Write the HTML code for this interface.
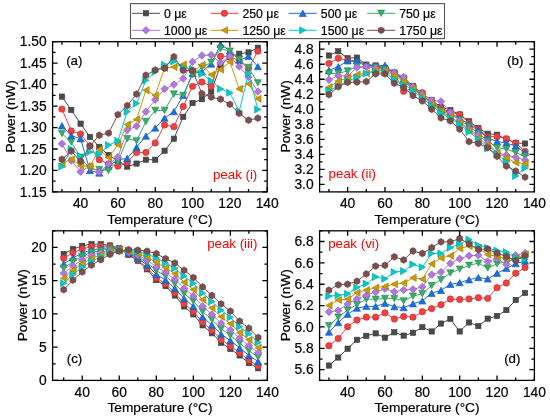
<!DOCTYPE html>
<html><head><meta charset="utf-8"><style>
html,body{margin:0;padding:0;background:#fff;}
svg{display:block;will-change:transform;}
text{font-family:"Liberation Sans", sans-serif;font-size:13.8px;fill:#000;stroke:#000;stroke-width:0.2px;}
</style></head><body>
<svg width="550" height="417" viewBox="0 0 550 417">
<polyline points="61.93,96.63 71.26,109.93 80.59,123.67 89.92,136.97 99.25,146.84 108.58,154.99 117.91,161 127.24,166.58 136.57,163.58 145.9,159.71 155.23,159.71 164.57,150.7 173.9,138.69 183.23,116.8 192.56,103.07 201.89,99.21 211.22,91.48 220.55,65.3 229.88,56.72 239.21,53.72 248.54,52.43 257.87,47.71" fill="none" stroke="#4A4A4A" stroke-width="1"/>
<rect x="59.3" y="94" width="5.26" height="5.26" fill="#4A4A4A" stroke="#393939" stroke-width="0.6"/>
<rect x="68.63" y="107.3" width="5.26" height="5.26" fill="#4A4A4A" stroke="#393939" stroke-width="0.6"/>
<rect x="77.96" y="121.03" width="5.26" height="5.26" fill="#4A4A4A" stroke="#393939" stroke-width="0.6"/>
<rect x="87.29" y="134.34" width="5.26" height="5.26" fill="#4A4A4A" stroke="#393939" stroke-width="0.6"/>
<rect x="96.62" y="144.21" width="5.26" height="5.26" fill="#4A4A4A" stroke="#393939" stroke-width="0.6"/>
<rect x="105.95" y="152.36" width="5.26" height="5.26" fill="#4A4A4A" stroke="#393939" stroke-width="0.6"/>
<rect x="115.28" y="158.37" width="5.26" height="5.26" fill="#4A4A4A" stroke="#393939" stroke-width="0.6"/>
<rect x="124.61" y="163.95" width="5.26" height="5.26" fill="#4A4A4A" stroke="#393939" stroke-width="0.6"/>
<rect x="133.94" y="160.94" width="5.26" height="5.26" fill="#4A4A4A" stroke="#393939" stroke-width="0.6"/>
<rect x="143.27" y="157.08" width="5.26" height="5.26" fill="#4A4A4A" stroke="#393939" stroke-width="0.6"/>
<rect x="152.6" y="157.08" width="5.26" height="5.26" fill="#4A4A4A" stroke="#393939" stroke-width="0.6"/>
<rect x="161.93" y="148.07" width="5.26" height="5.26" fill="#4A4A4A" stroke="#393939" stroke-width="0.6"/>
<rect x="171.26" y="136.05" width="5.26" height="5.26" fill="#4A4A4A" stroke="#393939" stroke-width="0.6"/>
<rect x="180.59" y="114.17" width="5.26" height="5.26" fill="#4A4A4A" stroke="#393939" stroke-width="0.6"/>
<rect x="189.92" y="100.44" width="5.26" height="5.26" fill="#4A4A4A" stroke="#393939" stroke-width="0.6"/>
<rect x="199.25" y="96.57" width="5.26" height="5.26" fill="#4A4A4A" stroke="#393939" stroke-width="0.6"/>
<rect x="208.59" y="88.85" width="5.26" height="5.26" fill="#4A4A4A" stroke="#393939" stroke-width="0.6"/>
<rect x="217.92" y="62.67" width="5.26" height="5.26" fill="#4A4A4A" stroke="#393939" stroke-width="0.6"/>
<rect x="227.25" y="54.09" width="5.26" height="5.26" fill="#4A4A4A" stroke="#393939" stroke-width="0.6"/>
<rect x="236.58" y="51.08" width="5.26" height="5.26" fill="#4A4A4A" stroke="#393939" stroke-width="0.6"/>
<rect x="245.91" y="49.8" width="5.26" height="5.26" fill="#4A4A4A" stroke="#393939" stroke-width="0.6"/>
<rect x="255.24" y="45.08" width="5.26" height="5.26" fill="#4A4A4A" stroke="#393939" stroke-width="0.6"/>
<polyline points="61.93,109.08 71.26,130.96 80.59,133.97 89.92,145.98 99.25,159.71 108.58,164.01 117.91,166.15 127.24,162.29 136.57,152.42 145.9,152.42 155.23,142.98 164.57,124.95 173.9,126.67 183.23,106.5 192.56,86.33 201.89,82.04 211.22,86.33 220.55,56.29 229.88,56.29 239.21,61.01 248.54,68.31 257.87,51.14" fill="none" stroke="#F14040" stroke-width="1"/>
<circle cx="61.93" cy="109.08" r="3.2" fill="#F14040" stroke="#BB3131" stroke-width="0.6"/>
<circle cx="71.26" cy="130.96" r="3.2" fill="#F14040" stroke="#BB3131" stroke-width="0.6"/>
<circle cx="80.59" cy="133.97" r="3.2" fill="#F14040" stroke="#BB3131" stroke-width="0.6"/>
<circle cx="89.92" cy="145.98" r="3.2" fill="#F14040" stroke="#BB3131" stroke-width="0.6"/>
<circle cx="99.25" cy="159.71" r="3.2" fill="#F14040" stroke="#BB3131" stroke-width="0.6"/>
<circle cx="108.58" cy="164.01" r="3.2" fill="#F14040" stroke="#BB3131" stroke-width="0.6"/>
<circle cx="117.91" cy="166.15" r="3.2" fill="#F14040" stroke="#BB3131" stroke-width="0.6"/>
<circle cx="127.24" cy="162.29" r="3.2" fill="#F14040" stroke="#BB3131" stroke-width="0.6"/>
<circle cx="136.57" cy="152.42" r="3.2" fill="#F14040" stroke="#BB3131" stroke-width="0.6"/>
<circle cx="145.9" cy="152.42" r="3.2" fill="#F14040" stroke="#BB3131" stroke-width="0.6"/>
<circle cx="155.23" cy="142.98" r="3.2" fill="#F14040" stroke="#BB3131" stroke-width="0.6"/>
<circle cx="164.57" cy="124.95" r="3.2" fill="#F14040" stroke="#BB3131" stroke-width="0.6"/>
<circle cx="173.9" cy="126.67" r="3.2" fill="#F14040" stroke="#BB3131" stroke-width="0.6"/>
<circle cx="183.23" cy="106.5" r="3.2" fill="#F14040" stroke="#BB3131" stroke-width="0.6"/>
<circle cx="192.56" cy="86.33" r="3.2" fill="#F14040" stroke="#BB3131" stroke-width="0.6"/>
<circle cx="201.89" cy="82.04" r="3.2" fill="#F14040" stroke="#BB3131" stroke-width="0.6"/>
<circle cx="211.22" cy="86.33" r="3.2" fill="#F14040" stroke="#BB3131" stroke-width="0.6"/>
<circle cx="220.55" cy="56.29" r="3.2" fill="#F14040" stroke="#BB3131" stroke-width="0.6"/>
<circle cx="229.88" cy="56.29" r="3.2" fill="#F14040" stroke="#BB3131" stroke-width="0.6"/>
<circle cx="239.21" cy="61.01" r="3.2" fill="#F14040" stroke="#BB3131" stroke-width="0.6"/>
<circle cx="248.54" cy="68.31" r="3.2" fill="#F14040" stroke="#BB3131" stroke-width="0.6"/>
<circle cx="257.87" cy="51.14" r="3.2" fill="#F14040" stroke="#BB3131" stroke-width="0.6"/>
<polyline points="61.93,125.81 71.26,135.68 80.59,138.69 89.92,170.44 99.25,173.02 108.58,166.15 117.91,159.71 127.24,158.43 136.57,147.27 145.9,136.11 155.23,127.96 164.57,118.09 173.9,111.65 183.23,95.34 192.56,73.46 201.89,71.74 211.22,64.02 220.55,44.27 229.88,50.71 239.21,60.58 248.54,56.29 257.87,66.59" fill="none" stroke="#1A6FDF" stroke-width="1"/>
<polygon points="61.93,122.62 65.5,129.01 58.36,129.01" fill="#1A6FDF" stroke="#1456AD" stroke-width="0.6"/>
<polygon points="71.26,132.49 74.83,138.88 67.69,138.88" fill="#1A6FDF" stroke="#1456AD" stroke-width="0.6"/>
<polygon points="80.59,135.49 84.16,141.88 77.02,141.88" fill="#1A6FDF" stroke="#1456AD" stroke-width="0.6"/>
<polygon points="89.92,167.25 93.49,173.64 86.35,173.64" fill="#1A6FDF" stroke="#1456AD" stroke-width="0.6"/>
<polygon points="99.25,169.82 102.82,176.21 95.68,176.21" fill="#1A6FDF" stroke="#1456AD" stroke-width="0.6"/>
<polygon points="108.58,162.96 112.15,169.35 105.01,169.35" fill="#1A6FDF" stroke="#1456AD" stroke-width="0.6"/>
<polygon points="117.91,156.52 121.49,162.91 114.34,162.91" fill="#1A6FDF" stroke="#1456AD" stroke-width="0.6"/>
<polygon points="127.24,155.23 130.82,161.62 123.67,161.62" fill="#1A6FDF" stroke="#1456AD" stroke-width="0.6"/>
<polygon points="136.57,144.07 140.15,150.47 133,150.47" fill="#1A6FDF" stroke="#1456AD" stroke-width="0.6"/>
<polygon points="145.9,132.92 149.48,139.31 142.33,139.31" fill="#1A6FDF" stroke="#1456AD" stroke-width="0.6"/>
<polygon points="155.23,124.76 158.81,131.15 151.66,131.15" fill="#1A6FDF" stroke="#1456AD" stroke-width="0.6"/>
<polygon points="164.57,114.89 168.14,121.28 160.99,121.28" fill="#1A6FDF" stroke="#1456AD" stroke-width="0.6"/>
<polygon points="173.9,108.45 177.47,114.85 170.32,114.85" fill="#1A6FDF" stroke="#1456AD" stroke-width="0.6"/>
<polygon points="183.23,92.15 186.8,98.54 179.65,98.54" fill="#1A6FDF" stroke="#1456AD" stroke-width="0.6"/>
<polygon points="192.56,70.26 196.13,76.65 188.98,76.65" fill="#1A6FDF" stroke="#1456AD" stroke-width="0.6"/>
<polygon points="201.89,68.54 205.46,74.94 198.31,74.94" fill="#1A6FDF" stroke="#1456AD" stroke-width="0.6"/>
<polygon points="211.22,60.82 214.79,67.21 207.65,67.21" fill="#1A6FDF" stroke="#1456AD" stroke-width="0.6"/>
<polygon points="220.55,41.08 224.12,47.47 216.98,47.47" fill="#1A6FDF" stroke="#1456AD" stroke-width="0.6"/>
<polygon points="229.88,47.52 233.45,53.91 226.31,53.91" fill="#1A6FDF" stroke="#1456AD" stroke-width="0.6"/>
<polygon points="239.21,57.39 242.78,63.78 235.64,63.78" fill="#1A6FDF" stroke="#1456AD" stroke-width="0.6"/>
<polygon points="248.54,53.09 252.11,59.49 244.97,59.49" fill="#1A6FDF" stroke="#1456AD" stroke-width="0.6"/>
<polygon points="257.87,63.39 261.44,69.79 254.3,69.79" fill="#1A6FDF" stroke="#1456AD" stroke-width="0.6"/>
<polyline points="61.93,133.54 71.26,142.12 80.59,157.14 89.92,169.16 99.25,169.58 108.58,170.44 117.91,161.86 127.24,138.69 136.57,140.83 145.9,121.52 155.23,110.36 164.57,110.36 173.9,94.06 183.23,95.34 192.56,74.74 201.89,67.45 211.22,62.3 220.55,48.57 229.88,51.14 239.21,59.29 248.54,67.45 257.87,82.9" fill="none" stroke="#37AD6B" stroke-width="1"/>
<polygon points="61.93,136.73 65.5,130.34 58.36,130.34" fill="#37AD6B" stroke="#2A8653" stroke-width="0.6"/>
<polygon points="71.26,145.32 74.83,138.92 67.69,138.92" fill="#37AD6B" stroke="#2A8653" stroke-width="0.6"/>
<polygon points="80.59,160.34 84.16,153.94 77.02,153.94" fill="#37AD6B" stroke="#2A8653" stroke-width="0.6"/>
<polygon points="89.92,172.35 93.49,165.96 86.35,165.96" fill="#37AD6B" stroke="#2A8653" stroke-width="0.6"/>
<polygon points="99.25,172.78 102.82,166.39 95.68,166.39" fill="#37AD6B" stroke="#2A8653" stroke-width="0.6"/>
<polygon points="108.58,173.64 112.15,167.25 105.01,167.25" fill="#37AD6B" stroke="#2A8653" stroke-width="0.6"/>
<polygon points="117.91,165.06 121.49,158.66 114.34,158.66" fill="#37AD6B" stroke="#2A8653" stroke-width="0.6"/>
<polygon points="127.24,141.88 130.82,135.49 123.67,135.49" fill="#37AD6B" stroke="#2A8653" stroke-width="0.6"/>
<polygon points="136.57,144.03 140.15,137.64 133,137.64" fill="#37AD6B" stroke="#2A8653" stroke-width="0.6"/>
<polygon points="145.9,124.72 149.48,118.32 142.33,118.32" fill="#37AD6B" stroke="#2A8653" stroke-width="0.6"/>
<polygon points="155.23,113.56 158.81,107.17 151.66,107.17" fill="#37AD6B" stroke="#2A8653" stroke-width="0.6"/>
<polygon points="164.57,113.56 168.14,107.17 160.99,107.17" fill="#37AD6B" stroke="#2A8653" stroke-width="0.6"/>
<polygon points="173.9,97.25 177.47,90.86 170.32,90.86" fill="#37AD6B" stroke="#2A8653" stroke-width="0.6"/>
<polygon points="183.23,98.54 186.8,92.15 179.65,92.15" fill="#37AD6B" stroke="#2A8653" stroke-width="0.6"/>
<polygon points="192.56,77.94 196.13,71.55 188.98,71.55" fill="#37AD6B" stroke="#2A8653" stroke-width="0.6"/>
<polygon points="201.89,70.64 205.46,64.25 198.31,64.25" fill="#37AD6B" stroke="#2A8653" stroke-width="0.6"/>
<polygon points="211.22,65.49 214.79,59.1 207.65,59.1" fill="#37AD6B" stroke="#2A8653" stroke-width="0.6"/>
<polygon points="220.55,51.76 224.12,45.37 216.98,45.37" fill="#37AD6B" stroke="#2A8653" stroke-width="0.6"/>
<polygon points="229.88,54.34 233.45,47.95 226.31,47.95" fill="#37AD6B" stroke="#2A8653" stroke-width="0.6"/>
<polygon points="239.21,62.49 242.78,56.1 235.64,56.1" fill="#37AD6B" stroke="#2A8653" stroke-width="0.6"/>
<polygon points="248.54,70.64 252.11,64.25 244.97,64.25" fill="#37AD6B" stroke="#2A8653" stroke-width="0.6"/>
<polygon points="257.87,86.09 261.44,79.7 254.3,79.7" fill="#37AD6B" stroke="#2A8653" stroke-width="0.6"/>
<polyline points="61.93,143.84 71.26,160.57 80.59,171.73 89.92,166.15 99.25,172.16 108.58,164.01 117.91,157.14 127.24,130.1 136.57,126.24 145.9,111.65 155.23,99.63 164.57,88.91 173.9,84.61 183.23,78.61 192.56,61.87 201.89,55.43 211.22,55 220.55,62.73 229.88,56.29 239.21,66.59 248.54,76.89 257.87,91.48" fill="none" stroke="#B177DE" stroke-width="1"/>
<polygon points="61.93,140.08 65.69,143.84 61.93,147.6 58.17,143.84" fill="#B177DE" stroke="#8A5CAD" stroke-width="0.6"/>
<polygon points="71.26,156.81 75.02,160.57 71.26,164.33 67.5,160.57" fill="#B177DE" stroke="#8A5CAD" stroke-width="0.6"/>
<polygon points="80.59,167.97 84.35,171.73 80.59,175.49 76.83,171.73" fill="#B177DE" stroke="#8A5CAD" stroke-width="0.6"/>
<polygon points="89.92,162.39 93.68,166.15 89.92,169.91 86.16,166.15" fill="#B177DE" stroke="#8A5CAD" stroke-width="0.6"/>
<polygon points="99.25,168.4 103.01,172.16 99.25,175.92 95.49,172.16" fill="#B177DE" stroke="#8A5CAD" stroke-width="0.6"/>
<polygon points="108.58,160.25 112.34,164.01 108.58,167.77 104.82,164.01" fill="#B177DE" stroke="#8A5CAD" stroke-width="0.6"/>
<polygon points="117.91,153.38 121.67,157.14 117.91,160.9 114.15,157.14" fill="#B177DE" stroke="#8A5CAD" stroke-width="0.6"/>
<polygon points="127.24,126.34 131,130.1 127.24,133.86 123.48,130.1" fill="#B177DE" stroke="#8A5CAD" stroke-width="0.6"/>
<polygon points="136.57,122.48 140.33,126.24 136.57,130 132.81,126.24" fill="#B177DE" stroke="#8A5CAD" stroke-width="0.6"/>
<polygon points="145.9,107.89 149.66,111.65 145.9,115.41 142.14,111.65" fill="#B177DE" stroke="#8A5CAD" stroke-width="0.6"/>
<polygon points="155.23,95.87 158.99,99.63 155.23,103.39 151.47,99.63" fill="#B177DE" stroke="#8A5CAD" stroke-width="0.6"/>
<polygon points="164.57,85.15 168.33,88.91 164.57,92.67 160.81,88.91" fill="#B177DE" stroke="#8A5CAD" stroke-width="0.6"/>
<polygon points="173.9,80.85 177.66,84.61 173.9,88.37 170.14,84.61" fill="#B177DE" stroke="#8A5CAD" stroke-width="0.6"/>
<polygon points="183.23,74.85 186.99,78.61 183.23,82.37 179.47,78.61" fill="#B177DE" stroke="#8A5CAD" stroke-width="0.6"/>
<polygon points="192.56,58.11 196.32,61.87 192.56,65.63 188.8,61.87" fill="#B177DE" stroke="#8A5CAD" stroke-width="0.6"/>
<polygon points="201.89,51.67 205.65,55.43 201.89,59.19 198.13,55.43" fill="#B177DE" stroke="#8A5CAD" stroke-width="0.6"/>
<polygon points="211.22,51.24 214.98,55 211.22,58.76 207.46,55" fill="#B177DE" stroke="#8A5CAD" stroke-width="0.6"/>
<polygon points="220.55,58.97 224.31,62.73 220.55,66.49 216.79,62.73" fill="#B177DE" stroke="#8A5CAD" stroke-width="0.6"/>
<polygon points="229.88,52.53 233.64,56.29 229.88,60.05 226.12,56.29" fill="#B177DE" stroke="#8A5CAD" stroke-width="0.6"/>
<polygon points="239.21,62.83 242.97,66.59 239.21,70.35 235.45,66.59" fill="#B177DE" stroke="#8A5CAD" stroke-width="0.6"/>
<polygon points="248.54,73.13 252.3,76.89 248.54,80.65 244.78,76.89" fill="#B177DE" stroke="#8A5CAD" stroke-width="0.6"/>
<polygon points="257.87,87.72 261.63,91.48 257.87,95.24 254.11,91.48" fill="#B177DE" stroke="#8A5CAD" stroke-width="0.6"/>
<polyline points="61.93,164.01 71.26,159.29 80.59,165.72 89.92,166.15 99.25,149.41 108.58,157.57 117.91,144.69 127.24,124.52 136.57,119.37 145.9,90.19 155.23,95.34 164.57,67.88 173.9,67.02 183.23,64.44 192.56,71.74 201.89,64.87 211.22,74.74 220.55,69.59 229.88,61.87 239.21,88.91 248.54,83.76 257.87,98.78" fill="none" stroke="#CC9900" stroke-width="1"/>
<polygon points="58.73,164.01 65.13,160.43 65.13,167.58" fill="#CC9900" stroke="#9F7700" stroke-width="0.6"/>
<polygon points="68.06,159.29 74.46,155.71 74.46,162.86" fill="#CC9900" stroke="#9F7700" stroke-width="0.6"/>
<polygon points="77.4,165.72 83.79,162.15 83.79,169.29" fill="#CC9900" stroke="#9F7700" stroke-width="0.6"/>
<polygon points="86.73,166.15 93.12,162.58 93.12,169.72" fill="#CC9900" stroke="#9F7700" stroke-width="0.6"/>
<polygon points="96.06,149.41 102.45,145.84 102.45,152.99" fill="#CC9900" stroke="#9F7700" stroke-width="0.6"/>
<polygon points="105.39,157.57 111.78,154 111.78,161.14" fill="#CC9900" stroke="#9F7700" stroke-width="0.6"/>
<polygon points="114.72,144.69 121.11,141.12 121.11,148.27" fill="#CC9900" stroke="#9F7700" stroke-width="0.6"/>
<polygon points="124.05,124.52 130.44,120.95 130.44,128.1" fill="#CC9900" stroke="#9F7700" stroke-width="0.6"/>
<polygon points="133.38,119.37 139.77,115.8 139.77,122.95" fill="#CC9900" stroke="#9F7700" stroke-width="0.6"/>
<polygon points="142.71,90.19 149.1,86.62 149.1,93.77" fill="#CC9900" stroke="#9F7700" stroke-width="0.6"/>
<polygon points="152.04,95.34 158.43,91.77 158.43,98.91" fill="#CC9900" stroke="#9F7700" stroke-width="0.6"/>
<polygon points="161.37,67.88 167.76,64.31 167.76,71.45" fill="#CC9900" stroke="#9F7700" stroke-width="0.6"/>
<polygon points="170.7,67.02 177.09,63.45 177.09,70.59" fill="#CC9900" stroke="#9F7700" stroke-width="0.6"/>
<polygon points="180.03,64.44 186.42,60.87 186.42,68.02" fill="#CC9900" stroke="#9F7700" stroke-width="0.6"/>
<polygon points="189.36,71.74 195.75,68.17 195.75,75.31" fill="#CC9900" stroke="#9F7700" stroke-width="0.6"/>
<polygon points="198.69,64.87 205.08,61.3 205.08,68.45" fill="#CC9900" stroke="#9F7700" stroke-width="0.6"/>
<polygon points="208.02,74.74 214.41,71.17 214.41,78.32" fill="#CC9900" stroke="#9F7700" stroke-width="0.6"/>
<polygon points="217.35,69.59 223.74,66.02 223.74,73.17" fill="#CC9900" stroke="#9F7700" stroke-width="0.6"/>
<polygon points="226.68,61.87 233.07,58.3 233.07,65.44" fill="#CC9900" stroke="#9F7700" stroke-width="0.6"/>
<polygon points="236.01,88.91 242.4,85.33 242.4,92.48" fill="#CC9900" stroke="#9F7700" stroke-width="0.6"/>
<polygon points="245.34,83.76 251.74,80.18 251.74,87.33" fill="#CC9900" stroke="#9F7700" stroke-width="0.6"/>
<polygon points="254.67,98.78 261.07,95.2 261.07,102.35" fill="#CC9900" stroke="#9F7700" stroke-width="0.6"/>
<polyline points="61.93,166.58 71.26,148.99 80.59,156.28 89.92,151.99 99.25,154.14 108.58,145.12 117.91,140.83 127.24,111.65 136.57,103.5 145.9,80.32 155.23,71.74 164.57,64.87 173.9,61.44 183.23,67.45 192.56,69.17 201.89,73.89 211.22,80.75 220.55,88.91 229.88,92.77 239.21,111.22 248.54,73.46 257.87,109.5" fill="none" stroke="#00CBCC" stroke-width="1"/>
<polygon points="65.13,166.58 58.73,163.01 58.73,170.15" fill="#00CBCC" stroke="#009E9F" stroke-width="0.6"/>
<polygon points="74.46,148.99 68.06,145.41 68.06,152.56" fill="#00CBCC" stroke="#009E9F" stroke-width="0.6"/>
<polygon points="83.79,156.28 77.4,152.71 77.4,159.85" fill="#00CBCC" stroke="#009E9F" stroke-width="0.6"/>
<polygon points="93.12,151.99 86.73,148.42 86.73,155.56" fill="#00CBCC" stroke="#009E9F" stroke-width="0.6"/>
<polygon points="102.45,154.14 96.06,150.56 96.06,157.71" fill="#00CBCC" stroke="#009E9F" stroke-width="0.6"/>
<polygon points="111.78,145.12 105.39,141.55 105.39,148.7" fill="#00CBCC" stroke="#009E9F" stroke-width="0.6"/>
<polygon points="121.11,140.83 114.72,137.26 114.72,144.4" fill="#00CBCC" stroke="#009E9F" stroke-width="0.6"/>
<polygon points="130.44,111.65 124.05,108.08 124.05,115.22" fill="#00CBCC" stroke="#009E9F" stroke-width="0.6"/>
<polygon points="139.77,103.5 133.38,99.92 133.38,107.07" fill="#00CBCC" stroke="#009E9F" stroke-width="0.6"/>
<polygon points="149.1,80.32 142.71,76.75 142.71,83.89" fill="#00CBCC" stroke="#009E9F" stroke-width="0.6"/>
<polygon points="158.43,71.74 152.04,68.17 152.04,75.31" fill="#00CBCC" stroke="#009E9F" stroke-width="0.6"/>
<polygon points="167.76,64.87 161.37,61.3 161.37,68.45" fill="#00CBCC" stroke="#009E9F" stroke-width="0.6"/>
<polygon points="177.09,61.44 170.7,57.87 170.7,65.01" fill="#00CBCC" stroke="#009E9F" stroke-width="0.6"/>
<polygon points="186.42,67.45 180.03,63.88 180.03,71.02" fill="#00CBCC" stroke="#009E9F" stroke-width="0.6"/>
<polygon points="195.75,69.17 189.36,65.59 189.36,72.74" fill="#00CBCC" stroke="#009E9F" stroke-width="0.6"/>
<polygon points="205.08,73.89 198.69,70.31 198.69,77.46" fill="#00CBCC" stroke="#009E9F" stroke-width="0.6"/>
<polygon points="214.41,80.75 208.02,77.18 208.02,84.32" fill="#00CBCC" stroke="#009E9F" stroke-width="0.6"/>
<polygon points="223.74,88.91 217.35,85.33 217.35,92.48" fill="#00CBCC" stroke="#009E9F" stroke-width="0.6"/>
<polygon points="233.07,92.77 226.68,89.2 226.68,96.34" fill="#00CBCC" stroke="#009E9F" stroke-width="0.6"/>
<polygon points="242.4,111.22 236.01,107.65 236.01,114.79" fill="#00CBCC" stroke="#009E9F" stroke-width="0.6"/>
<polygon points="251.74,73.46 245.34,69.88 245.34,77.03" fill="#00CBCC" stroke="#009E9F" stroke-width="0.6"/>
<polygon points="261.07,109.5 254.67,105.93 254.67,113.08" fill="#00CBCC" stroke="#009E9F" stroke-width="0.6"/>
<polyline points="61.93,159.29 71.26,151.13 80.59,161.43 89.92,145.98 99.25,135.25 108.58,133.11 117.91,114.65 127.24,105.64 136.57,94.06 145.9,75.17 155.23,70.02 164.57,68.31 173.9,56.72 183.23,70.45 192.56,70.45 201.89,93.63 211.22,97.06 220.55,99.21 229.88,104.35 239.21,113.37 248.54,120.23 257.87,118.09" fill="none" stroke="#7D4E4E" stroke-width="1"/>
<polygon points="64.86,160.98 61.93,162.67 59,160.98 59,157.59 61.93,155.9 64.86,157.59" fill="#7D4E4E" stroke="#613C3C" stroke-width="0.6"/>
<polygon points="74.19,152.82 71.26,154.52 68.33,152.82 68.33,149.44 71.26,147.75 74.19,149.44" fill="#7D4E4E" stroke="#613C3C" stroke-width="0.6"/>
<polygon points="83.52,163.12 80.59,164.81 77.66,163.12 77.66,159.74 80.59,158.05 83.52,159.74" fill="#7D4E4E" stroke="#613C3C" stroke-width="0.6"/>
<polygon points="92.85,147.67 89.92,149.37 86.99,147.67 86.99,144.29 89.92,142.6 92.85,144.29" fill="#7D4E4E" stroke="#613C3C" stroke-width="0.6"/>
<polygon points="102.18,136.95 99.25,138.64 96.32,136.95 96.32,133.56 99.25,131.87 102.18,133.56" fill="#7D4E4E" stroke="#613C3C" stroke-width="0.6"/>
<polygon points="111.51,134.8 108.58,136.49 105.65,134.8 105.65,131.42 108.58,129.72 111.51,131.42" fill="#7D4E4E" stroke="#613C3C" stroke-width="0.6"/>
<polygon points="120.84,116.35 117.91,118.04 114.98,116.35 114.98,112.96 117.91,111.27 120.84,112.96" fill="#7D4E4E" stroke="#613C3C" stroke-width="0.6"/>
<polygon points="130.17,107.33 127.24,109.03 124.31,107.33 124.31,103.95 127.24,102.26 130.17,103.95" fill="#7D4E4E" stroke="#613C3C" stroke-width="0.6"/>
<polygon points="139.5,95.75 136.57,97.44 133.64,95.75 133.64,92.36 136.57,90.67 139.5,92.36" fill="#7D4E4E" stroke="#613C3C" stroke-width="0.6"/>
<polygon points="148.83,76.87 145.9,78.56 142.97,76.87 142.97,73.48 145.9,71.79 148.83,73.48" fill="#7D4E4E" stroke="#613C3C" stroke-width="0.6"/>
<polygon points="158.17,71.72 155.23,73.41 152.3,71.72 152.3,68.33 155.23,66.64 158.17,68.33" fill="#7D4E4E" stroke="#613C3C" stroke-width="0.6"/>
<polygon points="167.5,70 164.57,71.69 161.63,70 161.63,66.61 164.57,64.92 167.5,66.61" fill="#7D4E4E" stroke="#613C3C" stroke-width="0.6"/>
<polygon points="176.83,58.41 173.9,60.1 170.97,58.41 170.97,55.03 173.9,53.34 176.83,55.03" fill="#7D4E4E" stroke="#613C3C" stroke-width="0.6"/>
<polygon points="186.16,72.14 183.23,73.84 180.3,72.14 180.3,68.76 183.23,67.07 186.16,68.76" fill="#7D4E4E" stroke="#613C3C" stroke-width="0.6"/>
<polygon points="195.49,72.14 192.56,73.84 189.63,72.14 189.63,68.76 192.56,67.07 195.49,68.76" fill="#7D4E4E" stroke="#613C3C" stroke-width="0.6"/>
<polygon points="204.82,95.32 201.89,97.01 198.96,95.32 198.96,91.93 201.89,90.24 204.82,91.93" fill="#7D4E4E" stroke="#613C3C" stroke-width="0.6"/>
<polygon points="214.15,98.75 211.22,100.44 208.29,98.75 208.29,95.37 211.22,93.68 214.15,95.37" fill="#7D4E4E" stroke="#613C3C" stroke-width="0.6"/>
<polygon points="223.48,100.9 220.55,102.59 217.62,100.9 217.62,97.51 220.55,95.82 223.48,97.51" fill="#7D4E4E" stroke="#613C3C" stroke-width="0.6"/>
<polygon points="232.81,106.05 229.88,107.74 226.95,106.05 226.95,102.66 229.88,100.97 232.81,102.66" fill="#7D4E4E" stroke="#613C3C" stroke-width="0.6"/>
<polygon points="242.14,115.06 239.21,116.75 236.28,115.06 236.28,111.67 239.21,109.98 242.14,111.67" fill="#7D4E4E" stroke="#613C3C" stroke-width="0.6"/>
<polygon points="251.47,121.93 248.54,123.62 245.61,121.93 245.61,118.54 248.54,116.85 251.47,118.54" fill="#7D4E4E" stroke="#613C3C" stroke-width="0.6"/>
<polygon points="260.8,119.78 257.87,121.47 254.94,119.78 254.94,116.4 257.87,114.7 260.8,116.4" fill="#7D4E4E" stroke="#613C3C" stroke-width="0.6"/>
<rect x="52.6" y="41.7" width="214.6" height="150.2" fill="none" stroke="#000" stroke-width="1.3"/>
<path d="M61.93 191.9v-3M61.93 41.7v3M80.59 191.9v-5M80.59 41.7v5M99.25 191.9v-3M99.25 41.7v3M117.91 191.9v-5M117.91 41.7v5M136.57 191.9v-3M136.57 41.7v3M155.23 191.9v-5M155.23 41.7v5M173.9 191.9v-3M173.9 41.7v3M192.56 191.9v-5M192.56 41.7v5M211.22 191.9v-3M211.22 41.7v3M229.88 191.9v-5M229.88 41.7v5M248.54 191.9v-3M248.54 41.7v3M267.2 191.9v-5M267.2 41.7v5M52.6 191.9h5M267.2 191.9h-5M52.6 170.44h5M267.2 170.44h-5M52.6 148.99h5M267.2 148.99h-5M52.6 127.53h5M267.2 127.53h-5M52.6 106.07h5M267.2 106.07h-5M52.6 84.61h5M267.2 84.61h-5M52.6 63.16h5M267.2 63.16h-5M52.6 41.7h5M267.2 41.7h-5M52.6 181.17h3M267.2 181.17h-3M52.6 159.71h3M267.2 159.71h-3M52.6 138.26h3M267.2 138.26h-3M52.6 116.8h3M267.2 116.8h-3M52.6 95.34h3M267.2 95.34h-3M52.6 73.89h3M267.2 73.89h-3M52.6 52.43h3M267.2 52.43h-3" stroke="#000" stroke-width="1.3" fill="none"/>
<text x="80.59" y="208.2" text-anchor="middle">40</text>
<text x="117.91" y="208.2" text-anchor="middle">60</text>
<text x="155.23" y="208.2" text-anchor="middle">80</text>
<text x="192.56" y="208.2" text-anchor="middle">100</text>
<text x="229.88" y="208.2" text-anchor="middle">120</text>
<text x="267.2" y="208.2" text-anchor="middle">140</text>
<text x="46.6" y="196.6" text-anchor="end">1.15</text>
<text x="46.6" y="175.14" text-anchor="end">1.20</text>
<text x="46.6" y="153.69" text-anchor="end">1.25</text>
<text x="46.6" y="132.23" text-anchor="end">1.30</text>
<text x="46.6" y="110.77" text-anchor="end">1.35</text>
<text x="46.6" y="89.31" text-anchor="end">1.40</text>
<text x="46.6" y="67.86" text-anchor="end">1.45</text>
<text x="46.6" y="46.4" text-anchor="end">1.50</text>
<text x="159.9" y="223.9" text-anchor="middle" style="font-size:13.7px">Temperature (°C)</text>
<text x="66.2" y="65.3" style="font-size:13.3px">(a)</text>
<text x="257.3" y="178.6" text-anchor="end" style="fill:#f00;stroke:none;font-size:13.3px">peak (i)</text>
<polyline points="328.94,55.52 338.28,51.24 347.62,58.22 356.96,57.62 366.3,64.61 375.63,65.43 384.97,67.99 394.31,72.49 403.65,77.75 412.99,86.01 422.33,93.52 431.67,100.28 441.01,107.04 450.35,110.04 459.69,114.55 469.03,121.31 478.37,128.07 487.7,133.7 497.04,134.67 506.38,139.33 515.72,142.78 525.06,143.54" fill="none" stroke="#4A4A4A" stroke-width="1"/>
<rect x="326.31" y="52.89" width="5.26" height="5.26" fill="#4A4A4A" stroke="#393939" stroke-width="0.6"/>
<rect x="335.65" y="48.61" width="5.26" height="5.26" fill="#4A4A4A" stroke="#393939" stroke-width="0.6"/>
<rect x="344.99" y="55.59" width="5.26" height="5.26" fill="#4A4A4A" stroke="#393939" stroke-width="0.6"/>
<rect x="354.32" y="54.99" width="5.26" height="5.26" fill="#4A4A4A" stroke="#393939" stroke-width="0.6"/>
<rect x="363.66" y="61.97" width="5.26" height="5.26" fill="#4A4A4A" stroke="#393939" stroke-width="0.6"/>
<rect x="373" y="62.8" width="5.26" height="5.26" fill="#4A4A4A" stroke="#393939" stroke-width="0.6"/>
<rect x="382.34" y="65.35" width="5.26" height="5.26" fill="#4A4A4A" stroke="#393939" stroke-width="0.6"/>
<rect x="391.68" y="69.86" width="5.26" height="5.26" fill="#4A4A4A" stroke="#393939" stroke-width="0.6"/>
<rect x="401.02" y="75.12" width="5.26" height="5.26" fill="#4A4A4A" stroke="#393939" stroke-width="0.6"/>
<rect x="410.36" y="83.38" width="5.26" height="5.26" fill="#4A4A4A" stroke="#393939" stroke-width="0.6"/>
<rect x="419.7" y="90.89" width="5.26" height="5.26" fill="#4A4A4A" stroke="#393939" stroke-width="0.6"/>
<rect x="429.04" y="97.65" width="5.26" height="5.26" fill="#4A4A4A" stroke="#393939" stroke-width="0.6"/>
<rect x="438.38" y="104.41" width="5.26" height="5.26" fill="#4A4A4A" stroke="#393939" stroke-width="0.6"/>
<rect x="447.72" y="107.41" width="5.26" height="5.26" fill="#4A4A4A" stroke="#393939" stroke-width="0.6"/>
<rect x="457.05" y="111.92" width="5.26" height="5.26" fill="#4A4A4A" stroke="#393939" stroke-width="0.6"/>
<rect x="466.39" y="118.67" width="5.26" height="5.26" fill="#4A4A4A" stroke="#393939" stroke-width="0.6"/>
<rect x="475.73" y="125.43" width="5.26" height="5.26" fill="#4A4A4A" stroke="#393939" stroke-width="0.6"/>
<rect x="485.07" y="131.07" width="5.26" height="5.26" fill="#4A4A4A" stroke="#393939" stroke-width="0.6"/>
<rect x="494.41" y="132.04" width="5.26" height="5.26" fill="#4A4A4A" stroke="#393939" stroke-width="0.6"/>
<rect x="503.75" y="136.7" width="5.26" height="5.26" fill="#4A4A4A" stroke="#393939" stroke-width="0.6"/>
<rect x="513.09" y="140.15" width="5.26" height="5.26" fill="#4A4A4A" stroke="#393939" stroke-width="0.6"/>
<rect x="522.43" y="140.9" width="5.26" height="5.26" fill="#4A4A4A" stroke="#393939" stroke-width="0.6"/>
<polyline points="328.94,63.33 338.28,58.22 347.62,60.78 356.96,61.98 366.3,65.73 375.63,66.48 384.97,68.74 394.31,73.24 403.65,91.27 412.99,88.26 422.33,92.77 431.67,101.78 441.01,107.79 450.35,112.29 459.69,114.55 469.03,122.81 478.37,129.27 487.7,136.63 497.04,136.63 506.38,138.58 515.72,143.09 525.06,151.35" fill="none" stroke="#F14040" stroke-width="1"/>
<circle cx="328.94" cy="63.33" r="3.2" fill="#F14040" stroke="#BB3131" stroke-width="0.6"/>
<circle cx="338.28" cy="58.22" r="3.2" fill="#F14040" stroke="#BB3131" stroke-width="0.6"/>
<circle cx="347.62" cy="60.78" r="3.2" fill="#F14040" stroke="#BB3131" stroke-width="0.6"/>
<circle cx="356.96" cy="61.98" r="3.2" fill="#F14040" stroke="#BB3131" stroke-width="0.6"/>
<circle cx="366.3" cy="65.73" r="3.2" fill="#F14040" stroke="#BB3131" stroke-width="0.6"/>
<circle cx="375.63" cy="66.48" r="3.2" fill="#F14040" stroke="#BB3131" stroke-width="0.6"/>
<circle cx="384.97" cy="68.74" r="3.2" fill="#F14040" stroke="#BB3131" stroke-width="0.6"/>
<circle cx="394.31" cy="73.24" r="3.2" fill="#F14040" stroke="#BB3131" stroke-width="0.6"/>
<circle cx="403.65" cy="91.27" r="3.2" fill="#F14040" stroke="#BB3131" stroke-width="0.6"/>
<circle cx="412.99" cy="88.26" r="3.2" fill="#F14040" stroke="#BB3131" stroke-width="0.6"/>
<circle cx="422.33" cy="92.77" r="3.2" fill="#F14040" stroke="#BB3131" stroke-width="0.6"/>
<circle cx="431.67" cy="101.78" r="3.2" fill="#F14040" stroke="#BB3131" stroke-width="0.6"/>
<circle cx="441.01" cy="107.79" r="3.2" fill="#F14040" stroke="#BB3131" stroke-width="0.6"/>
<circle cx="450.35" cy="112.29" r="3.2" fill="#F14040" stroke="#BB3131" stroke-width="0.6"/>
<circle cx="459.69" cy="114.55" r="3.2" fill="#F14040" stroke="#BB3131" stroke-width="0.6"/>
<circle cx="469.03" cy="122.81" r="3.2" fill="#F14040" stroke="#BB3131" stroke-width="0.6"/>
<circle cx="478.37" cy="129.27" r="3.2" fill="#F14040" stroke="#BB3131" stroke-width="0.6"/>
<circle cx="487.7" cy="136.63" r="3.2" fill="#F14040" stroke="#BB3131" stroke-width="0.6"/>
<circle cx="497.04" cy="136.63" r="3.2" fill="#F14040" stroke="#BB3131" stroke-width="0.6"/>
<circle cx="506.38" cy="138.58" r="3.2" fill="#F14040" stroke="#BB3131" stroke-width="0.6"/>
<circle cx="515.72" cy="143.09" r="3.2" fill="#F14040" stroke="#BB3131" stroke-width="0.6"/>
<circle cx="525.06" cy="151.35" r="3.2" fill="#F14040" stroke="#BB3131" stroke-width="0.6"/>
<polyline points="328.94,70.31 338.28,66.71 347.62,60.78 356.96,60.4 366.3,64.98 375.63,66.11 384.97,65.21 394.31,73.24 403.65,79.25 412.99,87.51 422.33,95.02 431.67,102.53 441.01,109.29 450.35,113.05 459.69,118.3 469.03,124.31 478.37,130.32 487.7,137.83 497.04,141.58 506.38,143.09 515.72,145.94 525.06,152.62" fill="none" stroke="#1A6FDF" stroke-width="1"/>
<polygon points="328.94,67.12 332.51,73.51 325.37,73.51" fill="#1A6FDF" stroke="#1456AD" stroke-width="0.6"/>
<polygon points="338.28,63.51 341.85,69.9 334.71,69.9" fill="#1A6FDF" stroke="#1456AD" stroke-width="0.6"/>
<polygon points="347.62,57.58 351.19,63.97 344.05,63.97" fill="#1A6FDF" stroke="#1456AD" stroke-width="0.6"/>
<polygon points="356.96,57.2 360.53,63.6 353.38,63.6" fill="#1A6FDF" stroke="#1456AD" stroke-width="0.6"/>
<polygon points="366.3,61.79 369.87,68.18 362.72,68.18" fill="#1A6FDF" stroke="#1456AD" stroke-width="0.6"/>
<polygon points="375.63,62.91 379.21,69.3 372.06,69.3" fill="#1A6FDF" stroke="#1456AD" stroke-width="0.6"/>
<polygon points="384.97,62.01 388.55,68.4 381.4,68.4" fill="#1A6FDF" stroke="#1456AD" stroke-width="0.6"/>
<polygon points="394.31,70.05 397.89,76.44 390.74,76.44" fill="#1A6FDF" stroke="#1456AD" stroke-width="0.6"/>
<polygon points="403.65,76.05 407.22,82.45 400.08,82.45" fill="#1A6FDF" stroke="#1456AD" stroke-width="0.6"/>
<polygon points="412.99,84.32 416.56,90.71 409.42,90.71" fill="#1A6FDF" stroke="#1456AD" stroke-width="0.6"/>
<polygon points="422.33,91.82 425.9,98.22 418.76,98.22" fill="#1A6FDF" stroke="#1456AD" stroke-width="0.6"/>
<polygon points="431.67,99.34 435.24,105.73 428.1,105.73" fill="#1A6FDF" stroke="#1456AD" stroke-width="0.6"/>
<polygon points="441.01,106.09 444.58,112.49 437.44,112.49" fill="#1A6FDF" stroke="#1456AD" stroke-width="0.6"/>
<polygon points="450.35,109.85 453.92,116.24 446.78,116.24" fill="#1A6FDF" stroke="#1456AD" stroke-width="0.6"/>
<polygon points="459.69,115.11 463.26,121.5 456.11,121.5" fill="#1A6FDF" stroke="#1456AD" stroke-width="0.6"/>
<polygon points="469.03,121.11 472.6,127.51 465.45,127.51" fill="#1A6FDF" stroke="#1456AD" stroke-width="0.6"/>
<polygon points="478.37,127.12 481.94,133.51 474.79,133.51" fill="#1A6FDF" stroke="#1456AD" stroke-width="0.6"/>
<polygon points="487.7,134.63 491.28,141.02 484.13,141.02" fill="#1A6FDF" stroke="#1456AD" stroke-width="0.6"/>
<polygon points="497.04,138.39 500.62,144.78 493.47,144.78" fill="#1A6FDF" stroke="#1456AD" stroke-width="0.6"/>
<polygon points="506.38,139.89 509.95,146.28 502.81,146.28" fill="#1A6FDF" stroke="#1456AD" stroke-width="0.6"/>
<polygon points="515.72,142.74 519.29,149.13 512.15,149.13" fill="#1A6FDF" stroke="#1456AD" stroke-width="0.6"/>
<polygon points="525.06,149.43 528.63,155.82 521.49,155.82" fill="#1A6FDF" stroke="#1456AD" stroke-width="0.6"/>
<polyline points="328.94,73.54 338.28,73.24 347.62,70.99 356.96,66.48 366.3,67.23 375.63,67.23 384.97,69.49 394.31,73.99 403.65,80 412.99,88.26 422.33,95.77 431.67,103.28 441.01,110.79 450.35,114.55 459.69,119.8 469.03,126.56 478.37,133.32 487.7,140.83 497.04,147.67 506.38,149.09 515.72,152.62 525.06,156.3" fill="none" stroke="#37AD6B" stroke-width="1"/>
<polygon points="328.94,76.74 332.51,70.35 325.37,70.35" fill="#37AD6B" stroke="#2A8653" stroke-width="0.6"/>
<polygon points="338.28,76.44 341.85,70.05 334.71,70.05" fill="#37AD6B" stroke="#2A8653" stroke-width="0.6"/>
<polygon points="347.62,74.19 351.19,67.79 344.05,67.79" fill="#37AD6B" stroke="#2A8653" stroke-width="0.6"/>
<polygon points="356.96,69.68 360.53,63.29 353.38,63.29" fill="#37AD6B" stroke="#2A8653" stroke-width="0.6"/>
<polygon points="366.3,70.43 369.87,64.04 362.72,64.04" fill="#37AD6B" stroke="#2A8653" stroke-width="0.6"/>
<polygon points="375.63,70.43 379.21,64.04 372.06,64.04" fill="#37AD6B" stroke="#2A8653" stroke-width="0.6"/>
<polygon points="384.97,72.68 388.55,66.29 381.4,66.29" fill="#37AD6B" stroke="#2A8653" stroke-width="0.6"/>
<polygon points="394.31,77.19 397.89,70.8 390.74,70.8" fill="#37AD6B" stroke="#2A8653" stroke-width="0.6"/>
<polygon points="403.65,83.2 407.22,76.81 400.08,76.81" fill="#37AD6B" stroke="#2A8653" stroke-width="0.6"/>
<polygon points="412.99,91.46 416.56,85.07 409.42,85.07" fill="#37AD6B" stroke="#2A8653" stroke-width="0.6"/>
<polygon points="422.33,98.97 425.9,92.58 418.76,92.58" fill="#37AD6B" stroke="#2A8653" stroke-width="0.6"/>
<polygon points="431.67,106.48 435.24,100.09 428.1,100.09" fill="#37AD6B" stroke="#2A8653" stroke-width="0.6"/>
<polygon points="441.01,113.99 444.58,107.6 437.44,107.6" fill="#37AD6B" stroke="#2A8653" stroke-width="0.6"/>
<polygon points="450.35,117.74 453.92,111.35 446.78,111.35" fill="#37AD6B" stroke="#2A8653" stroke-width="0.6"/>
<polygon points="459.69,123 463.26,116.61 456.11,116.61" fill="#37AD6B" stroke="#2A8653" stroke-width="0.6"/>
<polygon points="469.03,129.76 472.6,123.37 465.45,123.37" fill="#37AD6B" stroke="#2A8653" stroke-width="0.6"/>
<polygon points="478.37,136.52 481.94,130.13 474.79,130.13" fill="#37AD6B" stroke="#2A8653" stroke-width="0.6"/>
<polygon points="487.7,144.03 491.28,137.64 484.13,137.64" fill="#37AD6B" stroke="#2A8653" stroke-width="0.6"/>
<polygon points="497.04,150.86 500.62,144.47 493.47,144.47" fill="#37AD6B" stroke="#2A8653" stroke-width="0.6"/>
<polygon points="506.38,152.29 509.95,145.9 502.81,145.9" fill="#37AD6B" stroke="#2A8653" stroke-width="0.6"/>
<polygon points="515.72,155.82 519.29,149.43 512.15,149.43" fill="#37AD6B" stroke="#2A8653" stroke-width="0.6"/>
<polygon points="525.06,159.5 528.63,153.11 521.49,153.11" fill="#37AD6B" stroke="#2A8653" stroke-width="0.6"/>
<polyline points="328.94,79.85 338.28,75.65 347.62,76.1 356.96,67.61 366.3,66.71 375.63,67.99 384.97,70.24 394.31,72.49 403.65,77 412.99,86.76 422.33,94.27 431.67,100.28 441.01,101.4 450.35,112.29 459.69,120.56 469.03,129.49 478.37,134.82 487.7,143.09 497.04,152.62 506.38,155.1 515.72,157.35 525.06,159.98" fill="none" stroke="#B177DE" stroke-width="1"/>
<polygon points="328.94,76.09 332.7,79.85 328.94,83.61 325.18,79.85" fill="#B177DE" stroke="#8A5CAD" stroke-width="0.6"/>
<polygon points="338.28,71.89 342.04,75.65 338.28,79.41 334.52,75.65" fill="#B177DE" stroke="#8A5CAD" stroke-width="0.6"/>
<polygon points="347.62,72.34 351.38,76.1 347.62,79.86 343.86,76.1" fill="#B177DE" stroke="#8A5CAD" stroke-width="0.6"/>
<polygon points="356.96,63.85 360.72,67.61 356.96,71.37 353.2,67.61" fill="#B177DE" stroke="#8A5CAD" stroke-width="0.6"/>
<polygon points="366.3,62.95 370.06,66.71 366.3,70.47 362.54,66.71" fill="#B177DE" stroke="#8A5CAD" stroke-width="0.6"/>
<polygon points="375.63,64.23 379.39,67.99 375.63,71.75 371.87,67.99" fill="#B177DE" stroke="#8A5CAD" stroke-width="0.6"/>
<polygon points="384.97,66.48 388.73,70.24 384.97,74 381.21,70.24" fill="#B177DE" stroke="#8A5CAD" stroke-width="0.6"/>
<polygon points="394.31,68.73 398.07,72.49 394.31,76.25 390.55,72.49" fill="#B177DE" stroke="#8A5CAD" stroke-width="0.6"/>
<polygon points="403.65,73.24 407.41,77 403.65,80.76 399.89,77" fill="#B177DE" stroke="#8A5CAD" stroke-width="0.6"/>
<polygon points="412.99,83 416.75,86.76 412.99,90.52 409.23,86.76" fill="#B177DE" stroke="#8A5CAD" stroke-width="0.6"/>
<polygon points="422.33,90.51 426.09,94.27 422.33,98.03 418.57,94.27" fill="#B177DE" stroke="#8A5CAD" stroke-width="0.6"/>
<polygon points="431.67,96.52 435.43,100.28 431.67,104.04 427.91,100.28" fill="#B177DE" stroke="#8A5CAD" stroke-width="0.6"/>
<polygon points="441.01,97.64 444.77,101.4 441.01,105.16 437.25,101.4" fill="#B177DE" stroke="#8A5CAD" stroke-width="0.6"/>
<polygon points="450.35,108.53 454.11,112.29 450.35,116.05 446.59,112.29" fill="#B177DE" stroke="#8A5CAD" stroke-width="0.6"/>
<polygon points="459.69,116.8 463.45,120.56 459.69,124.32 455.93,120.56" fill="#B177DE" stroke="#8A5CAD" stroke-width="0.6"/>
<polygon points="469.03,125.73 472.79,129.49 469.03,133.25 465.27,129.49" fill="#B177DE" stroke="#8A5CAD" stroke-width="0.6"/>
<polygon points="478.37,131.06 482.13,134.82 478.37,138.58 474.61,134.82" fill="#B177DE" stroke="#8A5CAD" stroke-width="0.6"/>
<polygon points="487.7,139.33 491.46,143.09 487.7,146.85 483.94,143.09" fill="#B177DE" stroke="#8A5CAD" stroke-width="0.6"/>
<polygon points="497.04,148.86 500.8,152.62 497.04,156.38 493.28,152.62" fill="#B177DE" stroke="#8A5CAD" stroke-width="0.6"/>
<polygon points="506.38,151.34 510.14,155.1 506.38,158.86 502.62,155.1" fill="#B177DE" stroke="#8A5CAD" stroke-width="0.6"/>
<polygon points="515.72,153.59 519.48,157.35 515.72,161.11 511.96,157.35" fill="#B177DE" stroke="#8A5CAD" stroke-width="0.6"/>
<polygon points="525.06,156.22 528.82,159.98 525.06,163.74 521.3,159.98" fill="#B177DE" stroke="#8A5CAD" stroke-width="0.6"/>
<polyline points="328.94,87.29 338.28,80.98 347.62,77.75 356.96,74.59 366.3,73.24 375.63,70.24 384.97,70.99 394.31,75.5 403.65,81.5 412.99,89.01 422.33,96.52 431.67,104.03 441.01,111.54 450.35,116.8 459.69,122.81 469.03,130.32 478.37,137.83 487.7,145.34 497.04,152.85 506.38,158.11 515.72,162.46 525.06,163.66" fill="none" stroke="#CC9900" stroke-width="1"/>
<polygon points="325.74,87.29 332.14,83.71 332.14,90.86" fill="#CC9900" stroke="#9F7700" stroke-width="0.6"/>
<polygon points="335.08,80.98 341.47,77.41 341.47,84.55" fill="#CC9900" stroke="#9F7700" stroke-width="0.6"/>
<polygon points="344.42,77.75 350.81,74.18 350.81,81.32" fill="#CC9900" stroke="#9F7700" stroke-width="0.6"/>
<polygon points="353.76,74.59 360.15,71.02 360.15,78.17" fill="#CC9900" stroke="#9F7700" stroke-width="0.6"/>
<polygon points="363.1,73.24 369.49,69.67 369.49,76.81" fill="#CC9900" stroke="#9F7700" stroke-width="0.6"/>
<polygon points="372.44,70.24 378.83,66.67 378.83,73.81" fill="#CC9900" stroke="#9F7700" stroke-width="0.6"/>
<polygon points="381.78,70.99 388.17,67.42 388.17,74.56" fill="#CC9900" stroke="#9F7700" stroke-width="0.6"/>
<polygon points="391.12,75.5 397.51,71.92 397.51,79.07" fill="#CC9900" stroke="#9F7700" stroke-width="0.6"/>
<polygon points="400.46,81.5 406.85,77.93 406.85,85.08" fill="#CC9900" stroke="#9F7700" stroke-width="0.6"/>
<polygon points="409.8,89.01 416.19,85.44 416.19,92.59" fill="#CC9900" stroke="#9F7700" stroke-width="0.6"/>
<polygon points="419.13,96.52 425.53,92.95 425.53,100.1" fill="#CC9900" stroke="#9F7700" stroke-width="0.6"/>
<polygon points="428.47,104.03 434.87,100.46 434.87,107.61" fill="#CC9900" stroke="#9F7700" stroke-width="0.6"/>
<polygon points="437.81,111.54 444.2,107.97 444.2,115.12" fill="#CC9900" stroke="#9F7700" stroke-width="0.6"/>
<polygon points="447.15,116.8 453.54,113.23 453.54,120.37" fill="#CC9900" stroke="#9F7700" stroke-width="0.6"/>
<polygon points="456.49,122.81 462.88,119.24 462.88,126.38" fill="#CC9900" stroke="#9F7700" stroke-width="0.6"/>
<polygon points="465.83,130.32 472.22,126.75 472.22,133.89" fill="#CC9900" stroke="#9F7700" stroke-width="0.6"/>
<polygon points="475.17,137.83 481.56,134.26 481.56,141.4" fill="#CC9900" stroke="#9F7700" stroke-width="0.6"/>
<polygon points="484.51,145.34 490.9,141.77 490.9,148.91" fill="#CC9900" stroke="#9F7700" stroke-width="0.6"/>
<polygon points="493.85,152.85 500.24,149.28 500.24,156.42" fill="#CC9900" stroke="#9F7700" stroke-width="0.6"/>
<polygon points="503.19,158.11 509.58,154.53 509.58,161.68" fill="#CC9900" stroke="#9F7700" stroke-width="0.6"/>
<polygon points="512.53,162.46 518.92,158.89 518.92,166.03" fill="#CC9900" stroke="#9F7700" stroke-width="0.6"/>
<polygon points="521.86,163.66 528.26,160.09 528.26,167.23" fill="#CC9900" stroke="#9F7700" stroke-width="0.6"/>
<polyline points="328.94,90.52 338.28,86.23 347.62,80.75 356.96,77.75 366.3,73.54 375.63,71.74 384.97,72.49 394.31,79.25 403.65,84.51 412.99,90.52 422.33,98.02 431.67,105.54 441.01,113.05 450.35,118.3 459.69,124.31 469.03,131.82 478.37,139.33 487.7,148.34 497.04,154.35 506.38,161.86 515.72,175.98 525.06,168.09" fill="none" stroke="#00CBCC" stroke-width="1"/>
<polygon points="332.14,90.52 325.74,86.94 325.74,94.09" fill="#00CBCC" stroke="#009E9F" stroke-width="0.6"/>
<polygon points="341.47,86.23 335.08,82.66 335.08,89.81" fill="#00CBCC" stroke="#009E9F" stroke-width="0.6"/>
<polygon points="350.81,80.75 344.42,77.18 344.42,84.32" fill="#00CBCC" stroke="#009E9F" stroke-width="0.6"/>
<polygon points="360.15,77.75 353.76,74.18 353.76,81.32" fill="#00CBCC" stroke="#009E9F" stroke-width="0.6"/>
<polygon points="369.49,73.54 363.1,69.97 363.1,77.11" fill="#00CBCC" stroke="#009E9F" stroke-width="0.6"/>
<polygon points="378.83,71.74 372.44,68.17 372.44,75.31" fill="#00CBCC" stroke="#009E9F" stroke-width="0.6"/>
<polygon points="388.17,72.49 381.78,68.92 381.78,76.06" fill="#00CBCC" stroke="#009E9F" stroke-width="0.6"/>
<polygon points="397.51,79.25 391.12,75.68 391.12,82.82" fill="#00CBCC" stroke="#009E9F" stroke-width="0.6"/>
<polygon points="406.85,84.51 400.46,80.94 400.46,88.08" fill="#00CBCC" stroke="#009E9F" stroke-width="0.6"/>
<polygon points="416.19,90.52 409.8,86.94 409.8,94.09" fill="#00CBCC" stroke="#009E9F" stroke-width="0.6"/>
<polygon points="425.53,98.02 419.13,94.45 419.13,101.6" fill="#00CBCC" stroke="#009E9F" stroke-width="0.6"/>
<polygon points="434.87,105.54 428.47,101.96 428.47,109.11" fill="#00CBCC" stroke="#009E9F" stroke-width="0.6"/>
<polygon points="444.2,113.05 437.81,109.47 437.81,116.62" fill="#00CBCC" stroke="#009E9F" stroke-width="0.6"/>
<polygon points="453.54,118.3 447.15,114.73 447.15,121.87" fill="#00CBCC" stroke="#009E9F" stroke-width="0.6"/>
<polygon points="462.88,124.31 456.49,120.74 456.49,127.88" fill="#00CBCC" stroke="#009E9F" stroke-width="0.6"/>
<polygon points="472.22,131.82 465.83,128.25 465.83,135.39" fill="#00CBCC" stroke="#009E9F" stroke-width="0.6"/>
<polygon points="481.56,139.33 475.17,135.76 475.17,142.9" fill="#00CBCC" stroke="#009E9F" stroke-width="0.6"/>
<polygon points="490.9,148.34 484.51,144.77 484.51,151.91" fill="#00CBCC" stroke="#009E9F" stroke-width="0.6"/>
<polygon points="500.24,154.35 493.85,150.78 493.85,157.92" fill="#00CBCC" stroke="#009E9F" stroke-width="0.6"/>
<polygon points="509.58,161.86 503.19,158.29 503.19,165.43" fill="#00CBCC" stroke="#009E9F" stroke-width="0.6"/>
<polygon points="518.92,175.98 512.53,172.41 512.53,179.55" fill="#00CBCC" stroke="#009E9F" stroke-width="0.6"/>
<polygon points="528.26,168.09 521.86,164.52 521.86,171.67" fill="#00CBCC" stroke="#009E9F" stroke-width="0.6"/>
<polyline points="328.94,94.72 338.28,86.68 347.62,82.4 356.96,82.03 366.3,81.58 375.63,73.92 384.97,73.92 394.31,83.23 403.65,87.59 412.99,95.55 422.33,101.03 431.67,109.29 441.01,117.93 450.35,120.93 459.69,129.19 469.03,141.58 478.37,143.54 487.7,147.67 497.04,156.3 506.38,166.14 515.72,171.02 525.06,177.18" fill="none" stroke="#7D4E4E" stroke-width="1"/>
<polygon points="331.87,96.41 328.94,98.1 326.01,96.41 326.01,93.03 328.94,91.34 331.87,93.03" fill="#7D4E4E" stroke="#613C3C" stroke-width="0.6"/>
<polygon points="341.21,88.38 338.28,90.07 335.35,88.38 335.35,84.99 338.28,83.3 341.21,84.99" fill="#7D4E4E" stroke="#613C3C" stroke-width="0.6"/>
<polygon points="350.55,84.1 347.62,85.79 344.69,84.1 344.69,80.71 347.62,79.02 350.55,80.71" fill="#7D4E4E" stroke="#613C3C" stroke-width="0.6"/>
<polygon points="359.89,83.72 356.96,85.41 354.03,83.72 354.03,80.34 356.96,78.64 359.89,80.34" fill="#7D4E4E" stroke="#613C3C" stroke-width="0.6"/>
<polygon points="369.23,83.27 366.3,84.96 363.37,83.27 363.37,79.89 366.3,78.19 369.23,79.89" fill="#7D4E4E" stroke="#613C3C" stroke-width="0.6"/>
<polygon points="378.57,75.61 375.63,77.3 372.7,75.61 372.7,72.23 375.63,70.53 378.57,72.23" fill="#7D4E4E" stroke="#613C3C" stroke-width="0.6"/>
<polygon points="387.9,75.61 384.97,77.3 382.04,75.61 382.04,72.23 384.97,70.53 387.9,72.23" fill="#7D4E4E" stroke="#613C3C" stroke-width="0.6"/>
<polygon points="397.24,84.92 394.31,86.61 391.38,84.92 391.38,81.54 394.31,79.85 397.24,81.54" fill="#7D4E4E" stroke="#613C3C" stroke-width="0.6"/>
<polygon points="406.58,89.28 403.65,90.97 400.72,89.28 400.72,85.89 403.65,84.2 406.58,85.89" fill="#7D4E4E" stroke="#613C3C" stroke-width="0.6"/>
<polygon points="415.92,97.24 412.99,98.93 410.06,97.24 410.06,93.85 412.99,92.16 415.92,93.85" fill="#7D4E4E" stroke="#613C3C" stroke-width="0.6"/>
<polygon points="425.26,102.72 422.33,104.41 419.4,102.72 419.4,99.34 422.33,97.64 425.26,99.34" fill="#7D4E4E" stroke="#613C3C" stroke-width="0.6"/>
<polygon points="434.6,110.98 431.67,112.67 428.74,110.98 428.74,107.6 431.67,105.91 434.6,107.6" fill="#7D4E4E" stroke="#613C3C" stroke-width="0.6"/>
<polygon points="443.94,119.62 441.01,121.31 438.08,119.62 438.08,116.23 441.01,114.54 443.94,116.23" fill="#7D4E4E" stroke="#613C3C" stroke-width="0.6"/>
<polygon points="453.28,122.62 450.35,124.31 447.42,122.62 447.42,119.24 450.35,117.55 453.28,119.24" fill="#7D4E4E" stroke="#613C3C" stroke-width="0.6"/>
<polygon points="462.62,130.88 459.69,132.58 456.76,130.88 456.76,127.5 459.69,125.81 462.62,127.5" fill="#7D4E4E" stroke="#613C3C" stroke-width="0.6"/>
<polygon points="471.96,143.28 469.03,144.97 466.1,143.28 466.1,139.89 469.03,138.2 471.96,139.89" fill="#7D4E4E" stroke="#613C3C" stroke-width="0.6"/>
<polygon points="481.3,145.23 478.37,146.92 475.43,145.23 475.43,141.84 478.37,140.15 481.3,141.84" fill="#7D4E4E" stroke="#613C3C" stroke-width="0.6"/>
<polygon points="490.63,149.36 487.7,151.05 484.77,149.36 484.77,145.97 487.7,144.28 490.63,145.97" fill="#7D4E4E" stroke="#613C3C" stroke-width="0.6"/>
<polygon points="499.97,157.99 497.04,159.69 494.11,157.99 494.11,154.61 497.04,152.92 499.97,154.61" fill="#7D4E4E" stroke="#613C3C" stroke-width="0.6"/>
<polygon points="509.31,167.83 506.38,169.52 503.45,167.83 503.45,164.45 506.38,162.76 509.31,164.45" fill="#7D4E4E" stroke="#613C3C" stroke-width="0.6"/>
<polygon points="518.65,172.71 515.72,174.41 512.79,172.71 512.79,169.33 515.72,167.64 518.65,169.33" fill="#7D4E4E" stroke="#613C3C" stroke-width="0.6"/>
<polygon points="527.99,178.87 525.06,180.56 522.13,178.87 522.13,175.49 525.06,173.8 527.99,175.49" fill="#7D4E4E" stroke="#613C3C" stroke-width="0.6"/>
<rect x="319.6" y="41.7" width="214.8" height="150.2" fill="none" stroke="#000" stroke-width="1.3"/>
<path d="M328.94 191.9v-3M328.94 41.7v3M347.62 191.9v-5M347.62 41.7v5M366.3 191.9v-3M366.3 41.7v3M384.97 191.9v-5M384.97 41.7v5M403.65 191.9v-3M403.65 41.7v3M422.33 191.9v-5M422.33 41.7v5M441.01 191.9v-3M441.01 41.7v3M459.69 191.9v-5M459.69 41.7v5M478.37 191.9v-3M478.37 41.7v3M497.04 191.9v-5M497.04 41.7v5M515.72 191.9v-3M515.72 41.7v3M534.4 191.9v-5M534.4 41.7v5M319.6 184.39h5M534.4 184.39h-5M319.6 169.37h5M534.4 169.37h-5M319.6 154.35h5M534.4 154.35h-5M319.6 139.33h5M534.4 139.33h-5M319.6 124.31h5M534.4 124.31h-5M319.6 109.29h5M534.4 109.29h-5M319.6 94.27h5M534.4 94.27h-5M319.6 79.25h5M534.4 79.25h-5M319.6 64.23h5M534.4 64.23h-5M319.6 49.21h5M534.4 49.21h-5M319.6 176.88h3M534.4 176.88h-3M319.6 161.86h3M534.4 161.86h-3M319.6 146.84h3M534.4 146.84h-3M319.6 131.82h3M534.4 131.82h-3M319.6 116.8h3M534.4 116.8h-3M319.6 101.78h3M534.4 101.78h-3M319.6 86.76h3M534.4 86.76h-3M319.6 71.74h3M534.4 71.74h-3M319.6 56.72h3M534.4 56.72h-3M319.6 41.7h3M534.4 41.7h-3" stroke="#000" stroke-width="1.3" fill="none"/>
<text x="347.62" y="208.2" text-anchor="middle">40</text>
<text x="384.97" y="208.2" text-anchor="middle">60</text>
<text x="422.33" y="208.2" text-anchor="middle">80</text>
<text x="459.69" y="208.2" text-anchor="middle">100</text>
<text x="497.04" y="208.2" text-anchor="middle">120</text>
<text x="534.4" y="208.2" text-anchor="middle">140</text>
<text x="313.6" y="189.09" text-anchor="end">3.0</text>
<text x="313.6" y="174.07" text-anchor="end">3.2</text>
<text x="313.6" y="159.05" text-anchor="end">3.4</text>
<text x="313.6" y="144.03" text-anchor="end">3.6</text>
<text x="313.6" y="129.01" text-anchor="end">3.8</text>
<text x="313.6" y="113.99" text-anchor="end">4.0</text>
<text x="313.6" y="98.97" text-anchor="end">4.2</text>
<text x="313.6" y="83.95" text-anchor="end">4.4</text>
<text x="313.6" y="68.93" text-anchor="end">4.6</text>
<text x="313.6" y="53.91" text-anchor="end">4.8</text>
<text x="427" y="223.9" text-anchor="middle" style="font-size:13.7px">Temperature (°C)</text>
<text x="507.1" y="65.3" style="font-size:13.3px">(b)</text>
<text x="328.6" y="178.4" text-anchor="start" style="fill:#f00;stroke:none;font-size:13.3px">peak (ii)</text>
<polyline points="63.71,253.94 72.97,249.02 82.23,245.83 91.49,244.1 100.74,244.1 110,245.36 119.26,248.35 128.52,254.8 137.78,260.79 147.04,269.36 156.3,280.13 165.56,286.05 174.81,295.49 184.07,306.46 193.33,314.38 202.59,325.35 211.85,333.26 221.11,342.7 230.37,348.95 239.62,355.47 248.88,363.11 258.14,368.3" fill="none" stroke="#4A4A4A" stroke-width="1"/>
<rect x="61.08" y="251.31" width="5.26" height="5.26" fill="#4A4A4A" stroke="#393939" stroke-width="0.6"/>
<rect x="70.34" y="246.39" width="5.26" height="5.26" fill="#4A4A4A" stroke="#393939" stroke-width="0.6"/>
<rect x="79.6" y="243.19" width="5.26" height="5.26" fill="#4A4A4A" stroke="#393939" stroke-width="0.6"/>
<rect x="88.85" y="241.47" width="5.26" height="5.26" fill="#4A4A4A" stroke="#393939" stroke-width="0.6"/>
<rect x="98.11" y="241.47" width="5.26" height="5.26" fill="#4A4A4A" stroke="#393939" stroke-width="0.6"/>
<rect x="107.37" y="242.73" width="5.26" height="5.26" fill="#4A4A4A" stroke="#393939" stroke-width="0.6"/>
<rect x="116.63" y="245.72" width="5.26" height="5.26" fill="#4A4A4A" stroke="#393939" stroke-width="0.6"/>
<rect x="125.89" y="252.17" width="5.26" height="5.26" fill="#4A4A4A" stroke="#393939" stroke-width="0.6"/>
<rect x="135.15" y="258.15" width="5.26" height="5.26" fill="#4A4A4A" stroke="#393939" stroke-width="0.6"/>
<rect x="144.41" y="266.73" width="5.26" height="5.26" fill="#4A4A4A" stroke="#393939" stroke-width="0.6"/>
<rect x="153.66" y="277.5" width="5.26" height="5.26" fill="#4A4A4A" stroke="#393939" stroke-width="0.6"/>
<rect x="162.92" y="283.42" width="5.26" height="5.26" fill="#4A4A4A" stroke="#393939" stroke-width="0.6"/>
<rect x="172.18" y="292.86" width="5.26" height="5.26" fill="#4A4A4A" stroke="#393939" stroke-width="0.6"/>
<rect x="181.44" y="303.83" width="5.26" height="5.26" fill="#4A4A4A" stroke="#393939" stroke-width="0.6"/>
<rect x="190.7" y="311.74" width="5.26" height="5.26" fill="#4A4A4A" stroke="#393939" stroke-width="0.6"/>
<rect x="199.96" y="322.72" width="5.26" height="5.26" fill="#4A4A4A" stroke="#393939" stroke-width="0.6"/>
<rect x="209.22" y="330.63" width="5.26" height="5.26" fill="#4A4A4A" stroke="#393939" stroke-width="0.6"/>
<rect x="218.47" y="340.07" width="5.26" height="5.26" fill="#4A4A4A" stroke="#393939" stroke-width="0.6"/>
<rect x="227.73" y="346.32" width="5.26" height="5.26" fill="#4A4A4A" stroke="#393939" stroke-width="0.6"/>
<rect x="236.99" y="352.83" width="5.26" height="5.26" fill="#4A4A4A" stroke="#393939" stroke-width="0.6"/>
<rect x="246.25" y="360.48" width="5.26" height="5.26" fill="#4A4A4A" stroke="#393939" stroke-width="0.6"/>
<rect x="255.51" y="365.67" width="5.26" height="5.26" fill="#4A4A4A" stroke="#393939" stroke-width="0.6"/>
<polyline points="63.71,258.23 72.97,252.74 82.23,248.96 91.49,246.62 100.74,245.97 110,246.44 119.26,248.67 128.52,254.27 137.78,259.76 147.04,267.76 156.3,278.01 165.56,283.86 174.81,292.9 184.07,303.57 193.33,311.43 202.59,322.28 211.85,330.24 221.11,339.6 230.37,345.93 239.62,352.73 248.88,360.32 258.14,365.84" fill="none" stroke="#F14040" stroke-width="1"/>
<circle cx="63.71" cy="258.23" r="3.2" fill="#F14040" stroke="#BB3131" stroke-width="0.6"/>
<circle cx="72.97" cy="252.74" r="3.2" fill="#F14040" stroke="#BB3131" stroke-width="0.6"/>
<circle cx="82.23" cy="248.96" r="3.2" fill="#F14040" stroke="#BB3131" stroke-width="0.6"/>
<circle cx="91.49" cy="246.62" r="3.2" fill="#F14040" stroke="#BB3131" stroke-width="0.6"/>
<circle cx="100.74" cy="245.97" r="3.2" fill="#F14040" stroke="#BB3131" stroke-width="0.6"/>
<circle cx="110" cy="246.44" r="3.2" fill="#F14040" stroke="#BB3131" stroke-width="0.6"/>
<circle cx="119.26" cy="248.67" r="3.2" fill="#F14040" stroke="#BB3131" stroke-width="0.6"/>
<circle cx="128.52" cy="254.27" r="3.2" fill="#F14040" stroke="#BB3131" stroke-width="0.6"/>
<circle cx="137.78" cy="259.76" r="3.2" fill="#F14040" stroke="#BB3131" stroke-width="0.6"/>
<circle cx="147.04" cy="267.76" r="3.2" fill="#F14040" stroke="#BB3131" stroke-width="0.6"/>
<circle cx="156.3" cy="278.01" r="3.2" fill="#F14040" stroke="#BB3131" stroke-width="0.6"/>
<circle cx="165.56" cy="283.86" r="3.2" fill="#F14040" stroke="#BB3131" stroke-width="0.6"/>
<circle cx="174.81" cy="292.9" r="3.2" fill="#F14040" stroke="#BB3131" stroke-width="0.6"/>
<circle cx="184.07" cy="303.57" r="3.2" fill="#F14040" stroke="#BB3131" stroke-width="0.6"/>
<circle cx="193.33" cy="311.43" r="3.2" fill="#F14040" stroke="#BB3131" stroke-width="0.6"/>
<circle cx="202.59" cy="322.28" r="3.2" fill="#F14040" stroke="#BB3131" stroke-width="0.6"/>
<circle cx="211.85" cy="330.24" r="3.2" fill="#F14040" stroke="#BB3131" stroke-width="0.6"/>
<circle cx="221.11" cy="339.6" r="3.2" fill="#F14040" stroke="#BB3131" stroke-width="0.6"/>
<circle cx="230.37" cy="345.93" r="3.2" fill="#F14040" stroke="#BB3131" stroke-width="0.6"/>
<circle cx="239.62" cy="352.73" r="3.2" fill="#F14040" stroke="#BB3131" stroke-width="0.6"/>
<circle cx="248.88" cy="360.32" r="3.2" fill="#F14040" stroke="#BB3131" stroke-width="0.6"/>
<circle cx="258.14" cy="365.84" r="3.2" fill="#F14040" stroke="#BB3131" stroke-width="0.6"/>
<polyline points="63.71,263.95 72.97,257.71 82.23,253.14 91.49,249.98 100.74,248.47 110,247.87 119.26,249.1 128.52,253.49 137.78,258.17 147.04,265.14 156.3,274.3 165.56,280.03 174.81,288.36 184.07,298.51 193.33,306.27 202.59,316.91 211.85,324.95 221.11,334.17 230.37,340.64 239.62,347.93 248.88,355.43 258.14,361.53" fill="none" stroke="#1A6FDF" stroke-width="1"/>
<polygon points="63.71,260.76 67.28,267.15 60.14,267.15" fill="#1A6FDF" stroke="#1456AD" stroke-width="0.6"/>
<polygon points="72.97,254.52 76.54,260.91 69.4,260.91" fill="#1A6FDF" stroke="#1456AD" stroke-width="0.6"/>
<polygon points="82.23,249.95 85.8,256.34 78.66,256.34" fill="#1A6FDF" stroke="#1456AD" stroke-width="0.6"/>
<polygon points="91.49,246.78 95.06,253.18 87.91,253.18" fill="#1A6FDF" stroke="#1456AD" stroke-width="0.6"/>
<polygon points="100.74,245.28 104.32,251.67 97.17,251.67" fill="#1A6FDF" stroke="#1456AD" stroke-width="0.6"/>
<polygon points="110,244.68 113.58,251.07 106.43,251.07" fill="#1A6FDF" stroke="#1456AD" stroke-width="0.6"/>
<polygon points="119.26,245.91 122.83,252.3 115.69,252.3" fill="#1A6FDF" stroke="#1456AD" stroke-width="0.6"/>
<polygon points="128.52,250.3 132.09,256.69 124.95,256.69" fill="#1A6FDF" stroke="#1456AD" stroke-width="0.6"/>
<polygon points="137.78,254.98 141.35,261.37 134.21,261.37" fill="#1A6FDF" stroke="#1456AD" stroke-width="0.6"/>
<polygon points="147.04,261.94 150.61,268.33 143.47,268.33" fill="#1A6FDF" stroke="#1456AD" stroke-width="0.6"/>
<polygon points="156.3,271.1 159.87,277.49 152.72,277.49" fill="#1A6FDF" stroke="#1456AD" stroke-width="0.6"/>
<polygon points="165.56,276.83 169.13,283.22 161.98,283.22" fill="#1A6FDF" stroke="#1456AD" stroke-width="0.6"/>
<polygon points="174.81,285.16 178.39,291.55 171.24,291.55" fill="#1A6FDF" stroke="#1456AD" stroke-width="0.6"/>
<polygon points="184.07,295.31 187.64,301.7 180.5,301.7" fill="#1A6FDF" stroke="#1456AD" stroke-width="0.6"/>
<polygon points="193.33,303.08 196.9,309.47 189.76,309.47" fill="#1A6FDF" stroke="#1456AD" stroke-width="0.6"/>
<polygon points="202.59,313.71 206.16,320.1 199.02,320.1" fill="#1A6FDF" stroke="#1456AD" stroke-width="0.6"/>
<polygon points="211.85,321.75 215.42,328.15 208.28,328.15" fill="#1A6FDF" stroke="#1456AD" stroke-width="0.6"/>
<polygon points="221.11,330.98 224.68,337.37 217.53,337.37" fill="#1A6FDF" stroke="#1456AD" stroke-width="0.6"/>
<polygon points="230.37,337.45 233.94,343.84 226.79,343.84" fill="#1A6FDF" stroke="#1456AD" stroke-width="0.6"/>
<polygon points="239.62,344.74 243.2,351.13 236.05,351.13" fill="#1A6FDF" stroke="#1456AD" stroke-width="0.6"/>
<polygon points="248.88,352.24 252.45,358.63 245.31,358.63" fill="#1A6FDF" stroke="#1456AD" stroke-width="0.6"/>
<polygon points="258.14,358.33 261.71,364.72 254.57,364.72" fill="#1A6FDF" stroke="#1456AD" stroke-width="0.6"/>
<polyline points="63.71,268.25 72.97,261.44 82.23,256.28 91.49,252.5 100.74,250.35 110,248.95 119.26,249.45 128.52,252.84 137.78,256.76 147.04,262.66 156.3,270.58 165.56,276.19 174.81,283.81 184.07,293.44 193.33,301.12 202.59,311.54 211.85,319.66 221.11,328.75 230.37,335.36 239.62,343.14 248.88,350.55 258.14,357.22" fill="none" stroke="#37AD6B" stroke-width="1"/>
<polygon points="63.71,271.44 67.28,265.05 60.14,265.05" fill="#37AD6B" stroke="#2A8653" stroke-width="0.6"/>
<polygon points="72.97,264.63 76.54,258.24 69.4,258.24" fill="#37AD6B" stroke="#2A8653" stroke-width="0.6"/>
<polygon points="82.23,259.47 85.8,253.08 78.66,253.08" fill="#37AD6B" stroke="#2A8653" stroke-width="0.6"/>
<polygon points="91.49,255.7 95.06,249.31 87.91,249.31" fill="#37AD6B" stroke="#2A8653" stroke-width="0.6"/>
<polygon points="100.74,253.54 104.32,247.15 97.17,247.15" fill="#37AD6B" stroke="#2A8653" stroke-width="0.6"/>
<polygon points="110,252.15 113.58,245.76 106.43,245.76" fill="#37AD6B" stroke="#2A8653" stroke-width="0.6"/>
<polygon points="119.26,252.64 122.83,246.25 115.69,246.25" fill="#37AD6B" stroke="#2A8653" stroke-width="0.6"/>
<polygon points="128.52,256.03 132.09,249.64 124.95,249.64" fill="#37AD6B" stroke="#2A8653" stroke-width="0.6"/>
<polygon points="137.78,259.96 141.35,253.57 134.21,253.57" fill="#37AD6B" stroke="#2A8653" stroke-width="0.6"/>
<polygon points="147.04,265.86 150.61,259.46 143.47,259.46" fill="#37AD6B" stroke="#2A8653" stroke-width="0.6"/>
<polygon points="156.3,273.78 159.87,267.39 152.72,267.39" fill="#37AD6B" stroke="#2A8653" stroke-width="0.6"/>
<polygon points="165.56,279.39 169.13,272.99 161.98,272.99" fill="#37AD6B" stroke="#2A8653" stroke-width="0.6"/>
<polygon points="174.81,287.01 178.39,280.62 171.24,280.62" fill="#37AD6B" stroke="#2A8653" stroke-width="0.6"/>
<polygon points="184.07,296.64 187.64,290.25 180.5,290.25" fill="#37AD6B" stroke="#2A8653" stroke-width="0.6"/>
<polygon points="193.33,304.31 196.9,297.92 189.76,297.92" fill="#37AD6B" stroke="#2A8653" stroke-width="0.6"/>
<polygon points="202.59,314.73 206.16,308.34 199.02,308.34" fill="#37AD6B" stroke="#2A8653" stroke-width="0.6"/>
<polygon points="211.85,322.86 215.42,316.47 208.28,316.47" fill="#37AD6B" stroke="#2A8653" stroke-width="0.6"/>
<polygon points="221.11,331.94 224.68,325.55 217.53,325.55" fill="#37AD6B" stroke="#2A8653" stroke-width="0.6"/>
<polygon points="230.37,338.55 233.94,332.16 226.79,332.16" fill="#37AD6B" stroke="#2A8653" stroke-width="0.6"/>
<polygon points="239.62,346.34 243.2,339.94 236.05,339.94" fill="#37AD6B" stroke="#2A8653" stroke-width="0.6"/>
<polygon points="248.88,353.74 252.45,347.35 245.31,347.35" fill="#37AD6B" stroke="#2A8653" stroke-width="0.6"/>
<polygon points="258.14,360.41 261.71,354.02 254.57,354.02" fill="#37AD6B" stroke="#2A8653" stroke-width="0.6"/>
<polyline points="63.71,273.25 72.97,265.79 82.23,259.94 91.49,255.44 100.74,252.54 110,250.21 119.26,249.84 128.52,252.12 137.78,255.26 147.04,260.11 156.3,266.87 165.56,272.36 174.81,279.27 184.07,288.38 193.33,295.96 202.59,306.17 211.85,314.38 221.11,323.32 230.37,330.07 239.62,338.35 248.88,345.66 258.14,352.91" fill="none" stroke="#B177DE" stroke-width="1"/>
<polygon points="63.71,269.49 67.47,273.25 63.71,277.01 59.95,273.25" fill="#B177DE" stroke="#8A5CAD" stroke-width="0.6"/>
<polygon points="72.97,262.03 76.73,265.79 72.97,269.55 69.21,265.79" fill="#B177DE" stroke="#8A5CAD" stroke-width="0.6"/>
<polygon points="82.23,256.18 85.99,259.94 82.23,263.7 78.47,259.94" fill="#B177DE" stroke="#8A5CAD" stroke-width="0.6"/>
<polygon points="91.49,251.68 95.25,255.44 91.49,259.2 87.73,255.44" fill="#B177DE" stroke="#8A5CAD" stroke-width="0.6"/>
<polygon points="100.74,248.78 104.5,252.54 100.74,256.3 96.98,252.54" fill="#B177DE" stroke="#8A5CAD" stroke-width="0.6"/>
<polygon points="110,246.45 113.76,250.21 110,253.97 106.24,250.21" fill="#B177DE" stroke="#8A5CAD" stroke-width="0.6"/>
<polygon points="119.26,246.08 123.02,249.84 119.26,253.6 115.5,249.84" fill="#B177DE" stroke="#8A5CAD" stroke-width="0.6"/>
<polygon points="128.52,248.36 132.28,252.12 128.52,255.88 124.76,252.12" fill="#B177DE" stroke="#8A5CAD" stroke-width="0.6"/>
<polygon points="137.78,251.5 141.54,255.26 137.78,259.02 134.02,255.26" fill="#B177DE" stroke="#8A5CAD" stroke-width="0.6"/>
<polygon points="147.04,256.35 150.8,260.11 147.04,263.87 143.28,260.11" fill="#B177DE" stroke="#8A5CAD" stroke-width="0.6"/>
<polygon points="156.3,263.11 160.06,266.87 156.3,270.63 152.54,266.87" fill="#B177DE" stroke="#8A5CAD" stroke-width="0.6"/>
<polygon points="165.56,268.6 169.32,272.36 165.56,276.12 161.8,272.36" fill="#B177DE" stroke="#8A5CAD" stroke-width="0.6"/>
<polygon points="174.81,275.51 178.57,279.27 174.81,283.03 171.05,279.27" fill="#B177DE" stroke="#8A5CAD" stroke-width="0.6"/>
<polygon points="184.07,284.62 187.83,288.38 184.07,292.14 180.31,288.38" fill="#B177DE" stroke="#8A5CAD" stroke-width="0.6"/>
<polygon points="193.33,292.2 197.09,295.96 193.33,299.72 189.57,295.96" fill="#B177DE" stroke="#8A5CAD" stroke-width="0.6"/>
<polygon points="202.59,302.41 206.35,306.17 202.59,309.93 198.83,306.17" fill="#B177DE" stroke="#8A5CAD" stroke-width="0.6"/>
<polygon points="211.85,310.62 215.61,314.38 211.85,318.14 208.09,314.38" fill="#B177DE" stroke="#8A5CAD" stroke-width="0.6"/>
<polygon points="221.11,319.56 224.87,323.32 221.11,327.08 217.35,323.32" fill="#B177DE" stroke="#8A5CAD" stroke-width="0.6"/>
<polygon points="230.37,326.31 234.13,330.07 230.37,333.83 226.61,330.07" fill="#B177DE" stroke="#8A5CAD" stroke-width="0.6"/>
<polygon points="239.62,334.59 243.38,338.35 239.62,342.11 235.86,338.35" fill="#B177DE" stroke="#8A5CAD" stroke-width="0.6"/>
<polygon points="248.88,341.9 252.64,345.66 248.88,349.42 245.12,345.66" fill="#B177DE" stroke="#8A5CAD" stroke-width="0.6"/>
<polygon points="258.14,349.15 261.9,352.91 258.14,356.67 254.38,352.91" fill="#B177DE" stroke="#8A5CAD" stroke-width="0.6"/>
<polyline points="63.71,278.26 72.97,270.13 82.23,263.59 91.49,258.38 100.74,254.72 110,251.46 119.26,250.25 128.52,251.34 137.78,253.57 147.04,257.12 156.3,262.36 165.56,267.7 174.81,273.75 184.07,282.23 193.33,289.7 202.59,299.64 211.85,307.96 221.11,316.73 230.37,323.65 239.62,332.52 248.88,339.73 258.14,347.67" fill="none" stroke="#CC9900" stroke-width="1"/>
<polygon points="60.51,278.26 66.91,274.69 66.91,281.83" fill="#CC9900" stroke="#9F7700" stroke-width="0.6"/>
<polygon points="69.77,270.13 76.16,266.56 76.16,273.7" fill="#CC9900" stroke="#9F7700" stroke-width="0.6"/>
<polygon points="79.03,263.59 85.42,260.02 85.42,267.17" fill="#CC9900" stroke="#9F7700" stroke-width="0.6"/>
<polygon points="88.29,258.38 94.68,254.81 94.68,261.96" fill="#CC9900" stroke="#9F7700" stroke-width="0.6"/>
<polygon points="97.55,254.72 103.94,251.15 103.94,258.29" fill="#CC9900" stroke="#9F7700" stroke-width="0.6"/>
<polygon points="106.81,251.46 113.2,247.89 113.2,255.04" fill="#CC9900" stroke="#9F7700" stroke-width="0.6"/>
<polygon points="116.07,250.25 122.46,246.67 122.46,253.82" fill="#CC9900" stroke="#9F7700" stroke-width="0.6"/>
<polygon points="125.32,251.34 131.72,247.77 131.72,254.91" fill="#CC9900" stroke="#9F7700" stroke-width="0.6"/>
<polygon points="134.58,253.57 140.98,250 140.98,257.14" fill="#CC9900" stroke="#9F7700" stroke-width="0.6"/>
<polygon points="143.84,257.12 150.23,253.55 150.23,260.69" fill="#CC9900" stroke="#9F7700" stroke-width="0.6"/>
<polygon points="153.1,262.36 159.49,258.79 159.49,265.93" fill="#CC9900" stroke="#9F7700" stroke-width="0.6"/>
<polygon points="162.36,267.7 168.75,264.13 168.75,271.27" fill="#CC9900" stroke="#9F7700" stroke-width="0.6"/>
<polygon points="171.62,273.75 178.01,270.18 178.01,277.33" fill="#CC9900" stroke="#9F7700" stroke-width="0.6"/>
<polygon points="180.88,282.23 187.27,278.66 187.27,285.8" fill="#CC9900" stroke="#9F7700" stroke-width="0.6"/>
<polygon points="190.14,289.7 196.53,286.13 196.53,293.27" fill="#CC9900" stroke="#9F7700" stroke-width="0.6"/>
<polygon points="199.39,299.64 205.79,296.07 205.79,303.22" fill="#CC9900" stroke="#9F7700" stroke-width="0.6"/>
<polygon points="208.65,307.96 215.04,304.38 215.04,311.53" fill="#CC9900" stroke="#9F7700" stroke-width="0.6"/>
<polygon points="217.91,316.73 224.3,313.16 224.3,320.3" fill="#CC9900" stroke="#9F7700" stroke-width="0.6"/>
<polygon points="227.17,323.65 233.56,320.08 233.56,327.22" fill="#CC9900" stroke="#9F7700" stroke-width="0.6"/>
<polygon points="236.43,332.52 242.82,328.95 242.82,336.1" fill="#CC9900" stroke="#9F7700" stroke-width="0.6"/>
<polygon points="245.69,339.73 252.08,336.15 252.08,343.3" fill="#CC9900" stroke="#9F7700" stroke-width="0.6"/>
<polygon points="254.95,347.67 261.34,344.1 261.34,351.25" fill="#CC9900" stroke="#9F7700" stroke-width="0.6"/>
<polyline points="63.71,283.27 72.97,274.48 82.23,267.25 91.49,261.33 100.74,256.91 110,252.72 119.26,250.65 128.52,250.56 137.78,251.88 147.04,254.13 156.3,257.85 165.56,263.04 174.81,268.24 184.07,276.08 193.33,283.44 202.59,293.12 211.85,301.54 221.11,310.14 230.37,317.23 239.62,326.7 248.88,333.79 258.14,342.44" fill="none" stroke="#00CBCC" stroke-width="1"/>
<polygon points="66.91,283.27 60.51,279.7 60.51,286.84" fill="#00CBCC" stroke="#009E9F" stroke-width="0.6"/>
<polygon points="76.16,274.48 69.77,270.91 69.77,278.05" fill="#00CBCC" stroke="#009E9F" stroke-width="0.6"/>
<polygon points="85.42,267.25 79.03,263.68 79.03,270.83" fill="#00CBCC" stroke="#009E9F" stroke-width="0.6"/>
<polygon points="94.68,261.33 88.29,257.75 88.29,264.9" fill="#00CBCC" stroke="#009E9F" stroke-width="0.6"/>
<polygon points="103.94,256.91 97.55,253.34 97.55,260.48" fill="#00CBCC" stroke="#009E9F" stroke-width="0.6"/>
<polygon points="113.2,252.72 106.81,249.15 106.81,256.29" fill="#00CBCC" stroke="#009E9F" stroke-width="0.6"/>
<polygon points="122.46,250.65 116.07,247.08 116.07,254.23" fill="#00CBCC" stroke="#009E9F" stroke-width="0.6"/>
<polygon points="131.72,250.56 125.32,246.99 125.32,254.14" fill="#00CBCC" stroke="#009E9F" stroke-width="0.6"/>
<polygon points="140.98,251.88 134.58,248.31 134.58,255.45" fill="#00CBCC" stroke="#009E9F" stroke-width="0.6"/>
<polygon points="150.23,254.13 143.84,250.56 143.84,257.71" fill="#00CBCC" stroke="#009E9F" stroke-width="0.6"/>
<polygon points="159.49,257.85 153.1,254.28 153.1,261.42" fill="#00CBCC" stroke="#009E9F" stroke-width="0.6"/>
<polygon points="168.75,263.04 162.36,259.47 162.36,266.61" fill="#00CBCC" stroke="#009E9F" stroke-width="0.6"/>
<polygon points="178.01,268.24 171.62,264.67 171.62,271.81" fill="#00CBCC" stroke="#009E9F" stroke-width="0.6"/>
<polygon points="187.27,276.08 180.88,272.51 180.88,279.65" fill="#00CBCC" stroke="#009E9F" stroke-width="0.6"/>
<polygon points="196.53,283.44 190.14,279.86 190.14,287.01" fill="#00CBCC" stroke="#009E9F" stroke-width="0.6"/>
<polygon points="205.79,293.12 199.39,289.55 199.39,296.69" fill="#00CBCC" stroke="#009E9F" stroke-width="0.6"/>
<polygon points="215.04,301.54 208.65,297.96 208.65,305.11" fill="#00CBCC" stroke="#009E9F" stroke-width="0.6"/>
<polygon points="224.3,310.14 217.91,306.57 217.91,313.71" fill="#00CBCC" stroke="#009E9F" stroke-width="0.6"/>
<polygon points="233.56,317.23 227.17,313.66 227.17,320.8" fill="#00CBCC" stroke="#009E9F" stroke-width="0.6"/>
<polygon points="242.82,326.7 236.43,323.13 236.43,330.28" fill="#00CBCC" stroke="#009E9F" stroke-width="0.6"/>
<polygon points="252.08,333.79 245.69,330.22 245.69,337.36" fill="#00CBCC" stroke="#009E9F" stroke-width="0.6"/>
<polygon points="261.34,342.44 254.95,338.87 254.95,346.01" fill="#00CBCC" stroke="#009E9F" stroke-width="0.6"/>
<polyline points="63.71,289.71 72.97,280.07 82.23,271.96 91.49,265.11 100.74,259.72 110,254.34 119.26,251.15 128.52,249.68 137.78,250.08 147.04,251.15 156.3,253.61 165.56,258.66 174.81,263.05 184.07,270.29 193.33,277.54 202.59,286.98 211.85,295.49 221.11,303.94 230.37,311.19 239.62,321.22 248.88,328.21 258.14,337.51" fill="none" stroke="#7D4E4E" stroke-width="1"/>
<polygon points="66.64,291.4 63.71,293.09 60.78,291.4 60.78,288.02 63.71,286.33 66.64,288.02" fill="#7D4E4E" stroke="#613C3C" stroke-width="0.6"/>
<polygon points="75.9,281.76 72.97,283.45 70.04,281.76 70.04,278.38 72.97,276.68 75.9,278.38" fill="#7D4E4E" stroke="#613C3C" stroke-width="0.6"/>
<polygon points="85.16,273.65 82.23,275.34 79.3,273.65 79.3,270.26 82.23,268.57 85.16,270.26" fill="#7D4E4E" stroke="#613C3C" stroke-width="0.6"/>
<polygon points="94.42,266.8 91.49,268.49 88.56,266.8 88.56,263.42 91.49,261.72 94.42,263.42" fill="#7D4E4E" stroke="#613C3C" stroke-width="0.6"/>
<polygon points="103.68,261.41 100.74,263.11 97.81,261.41 97.81,258.03 100.74,256.34 103.68,258.03" fill="#7D4E4E" stroke="#613C3C" stroke-width="0.6"/>
<polygon points="112.93,256.03 110,257.72 107.07,256.03 107.07,252.65 110,250.95 112.93,252.65" fill="#7D4E4E" stroke="#613C3C" stroke-width="0.6"/>
<polygon points="122.19,252.84 119.26,254.53 116.33,252.84 116.33,249.45 119.26,247.76 122.19,249.45" fill="#7D4E4E" stroke="#613C3C" stroke-width="0.6"/>
<polygon points="131.45,251.37 128.52,253.07 125.59,251.37 125.59,247.99 128.52,246.3 131.45,247.99" fill="#7D4E4E" stroke="#613C3C" stroke-width="0.6"/>
<polygon points="140.71,251.77 137.78,253.47 134.85,251.77 134.85,248.39 137.78,246.7 140.71,248.39" fill="#7D4E4E" stroke="#613C3C" stroke-width="0.6"/>
<polygon points="149.97,252.84 147.04,254.53 144.11,252.84 144.11,249.45 147.04,247.76 149.97,249.45" fill="#7D4E4E" stroke="#613C3C" stroke-width="0.6"/>
<polygon points="159.23,255.3 156.3,256.99 153.37,255.3 153.37,251.91 156.3,250.22 159.23,251.91" fill="#7D4E4E" stroke="#613C3C" stroke-width="0.6"/>
<polygon points="168.49,260.35 165.56,262.04 162.62,260.35 162.62,256.97 165.56,255.27 168.49,256.97" fill="#7D4E4E" stroke="#613C3C" stroke-width="0.6"/>
<polygon points="177.74,264.74 174.81,266.43 171.88,264.74 171.88,261.36 174.81,259.66 177.74,261.36" fill="#7D4E4E" stroke="#613C3C" stroke-width="0.6"/>
<polygon points="187,271.99 184.07,273.68 181.14,271.99 181.14,268.6 184.07,266.91 187,268.6" fill="#7D4E4E" stroke="#613C3C" stroke-width="0.6"/>
<polygon points="196.26,279.23 193.33,280.93 190.4,279.23 190.4,275.85 193.33,274.16 196.26,275.85" fill="#7D4E4E" stroke="#613C3C" stroke-width="0.6"/>
<polygon points="205.52,288.68 202.59,290.37 199.66,288.68 199.66,285.29 202.59,283.6 205.52,285.29" fill="#7D4E4E" stroke="#613C3C" stroke-width="0.6"/>
<polygon points="214.78,297.19 211.85,298.88 208.92,297.19 208.92,293.8 211.85,292.11 214.78,293.8" fill="#7D4E4E" stroke="#613C3C" stroke-width="0.6"/>
<polygon points="224.04,305.63 221.11,307.32 218.18,305.63 218.18,302.25 221.11,300.55 224.04,302.25" fill="#7D4E4E" stroke="#613C3C" stroke-width="0.6"/>
<polygon points="233.3,312.88 230.37,314.57 227.43,312.88 227.43,309.49 230.37,307.8 233.3,309.49" fill="#7D4E4E" stroke="#613C3C" stroke-width="0.6"/>
<polygon points="242.55,322.92 239.62,324.61 236.69,322.92 236.69,319.53 239.62,317.84 242.55,319.53" fill="#7D4E4E" stroke="#613C3C" stroke-width="0.6"/>
<polygon points="251.81,329.9 248.88,331.59 245.95,329.9 245.95,326.51 248.88,324.82 251.81,326.51" fill="#7D4E4E" stroke="#613C3C" stroke-width="0.6"/>
<polygon points="261.07,339.21 258.14,340.9 255.21,339.21 255.21,335.82 258.14,334.13 261.07,335.82" fill="#7D4E4E" stroke="#613C3C" stroke-width="0.6"/>
<rect x="52.6" y="230.8" width="214.8" height="149.6" fill="none" stroke="#000" stroke-width="1.3"/>
<path d="M63.71 380.4v-3M63.71 230.8v3M82.23 380.4v-5M82.23 230.8v5M100.74 380.4v-3M100.74 230.8v3M119.26 380.4v-5M119.26 230.8v5M137.78 380.4v-3M137.78 230.8v3M156.3 380.4v-5M156.3 230.8v5M174.81 380.4v-3M174.81 230.8v3M193.33 380.4v-5M193.33 230.8v5M211.85 380.4v-3M211.85 230.8v3M230.37 380.4v-5M230.37 230.8v5M248.88 380.4v-3M248.88 230.8v3M267.4 380.4v-5M267.4 230.8v5M52.6 380.4h5M267.4 380.4h-5M52.6 347.16h5M267.4 347.16h-5M52.6 313.91h5M267.4 313.91h-5M52.6 280.67h5M267.4 280.67h-5M52.6 247.42h5M267.4 247.42h-5M52.6 363.78h3M267.4 363.78h-3M52.6 330.53h3M267.4 330.53h-3M52.6 297.29h3M267.4 297.29h-3M52.6 264.04h3M267.4 264.04h-3M52.6 230.8h3M267.4 230.8h-3" stroke="#000" stroke-width="1.3" fill="none"/>
<text x="82.23" y="396.7" text-anchor="middle">40</text>
<text x="119.26" y="396.7" text-anchor="middle">60</text>
<text x="156.3" y="396.7" text-anchor="middle">80</text>
<text x="193.33" y="396.7" text-anchor="middle">100</text>
<text x="230.37" y="396.7" text-anchor="middle">120</text>
<text x="267.4" y="396.7" text-anchor="middle">140</text>
<text x="46.6" y="385.1" text-anchor="end">0</text>
<text x="46.6" y="351.86" text-anchor="end">5</text>
<text x="46.6" y="318.61" text-anchor="end">10</text>
<text x="46.6" y="285.37" text-anchor="end">15</text>
<text x="46.6" y="252.12" text-anchor="end">20</text>
<text x="160" y="412.4" text-anchor="middle" style="font-size:13.7px">Temperature (°C)</text>
<text x="66.8" y="363.1" style="font-size:13.3px">(c)</text>
<text x="257.4" y="248.3" text-anchor="end" style="fill:#f00;stroke:none;font-size:13.3px">peak (iii)</text>
<polyline points="328.94,365.55 338.28,357.53 347.62,348.66 356.96,339.79 366.3,335.84 375.63,333.38 384.97,337.66 394.31,332.31 403.65,335.63 412.99,332.74 422.33,327.19 431.67,331.46 441.01,323.55 450.35,318.85 459.69,331.46 469.03,322.48 478.37,326.12 487.7,318.64 497.04,315.97 506.38,310.09 515.72,299.94 525.06,292.99" fill="none" stroke="#4A4A4A" stroke-width="1"/>
<rect x="326.31" y="362.91" width="5.26" height="5.26" fill="#4A4A4A" stroke="#393939" stroke-width="0.6"/>
<rect x="335.65" y="354.9" width="5.26" height="5.26" fill="#4A4A4A" stroke="#393939" stroke-width="0.6"/>
<rect x="344.99" y="346.03" width="5.26" height="5.26" fill="#4A4A4A" stroke="#393939" stroke-width="0.6"/>
<rect x="354.32" y="337.16" width="5.26" height="5.26" fill="#4A4A4A" stroke="#393939" stroke-width="0.6"/>
<rect x="363.66" y="333.21" width="5.26" height="5.26" fill="#4A4A4A" stroke="#393939" stroke-width="0.6"/>
<rect x="373" y="330.75" width="5.26" height="5.26" fill="#4A4A4A" stroke="#393939" stroke-width="0.6"/>
<rect x="382.34" y="335.03" width="5.26" height="5.26" fill="#4A4A4A" stroke="#393939" stroke-width="0.6"/>
<rect x="391.68" y="329.68" width="5.26" height="5.26" fill="#4A4A4A" stroke="#393939" stroke-width="0.6"/>
<rect x="401.02" y="332.99" width="5.26" height="5.26" fill="#4A4A4A" stroke="#393939" stroke-width="0.6"/>
<rect x="410.36" y="330.11" width="5.26" height="5.26" fill="#4A4A4A" stroke="#393939" stroke-width="0.6"/>
<rect x="419.7" y="324.55" width="5.26" height="5.26" fill="#4A4A4A" stroke="#393939" stroke-width="0.6"/>
<rect x="429.04" y="328.83" width="5.26" height="5.26" fill="#4A4A4A" stroke="#393939" stroke-width="0.6"/>
<rect x="438.38" y="320.92" width="5.26" height="5.26" fill="#4A4A4A" stroke="#393939" stroke-width="0.6"/>
<rect x="447.72" y="316.22" width="5.26" height="5.26" fill="#4A4A4A" stroke="#393939" stroke-width="0.6"/>
<rect x="457.05" y="328.83" width="5.26" height="5.26" fill="#4A4A4A" stroke="#393939" stroke-width="0.6"/>
<rect x="466.39" y="319.85" width="5.26" height="5.26" fill="#4A4A4A" stroke="#393939" stroke-width="0.6"/>
<rect x="475.73" y="323.48" width="5.26" height="5.26" fill="#4A4A4A" stroke="#393939" stroke-width="0.6"/>
<rect x="485.07" y="316" width="5.26" height="5.26" fill="#4A4A4A" stroke="#393939" stroke-width="0.6"/>
<rect x="494.41" y="313.33" width="5.26" height="5.26" fill="#4A4A4A" stroke="#393939" stroke-width="0.6"/>
<rect x="503.75" y="307.46" width="5.26" height="5.26" fill="#4A4A4A" stroke="#393939" stroke-width="0.6"/>
<rect x="513.09" y="297.3" width="5.26" height="5.26" fill="#4A4A4A" stroke="#393939" stroke-width="0.6"/>
<rect x="522.43" y="290.36" width="5.26" height="5.26" fill="#4A4A4A" stroke="#393939" stroke-width="0.6"/>
<polyline points="328.94,345.78 338.28,338.51 347.62,326.76 356.96,320.03 366.3,317.14 375.63,317.14 384.97,312.87 394.31,318.96 403.65,316.5 412.99,317.14 422.33,311.69 431.67,308.59 441.01,304.75 450.35,298.97 459.69,299.51 469.03,298.97 478.37,297.69 487.7,298.33 497.04,287.65 506.38,282.95 515.72,273.22 525.06,267.45" fill="none" stroke="#F14040" stroke-width="1"/>
<circle cx="328.94" cy="345.78" r="3.2" fill="#F14040" stroke="#BB3131" stroke-width="0.6"/>
<circle cx="338.28" cy="338.51" r="3.2" fill="#F14040" stroke="#BB3131" stroke-width="0.6"/>
<circle cx="347.62" cy="326.76" r="3.2" fill="#F14040" stroke="#BB3131" stroke-width="0.6"/>
<circle cx="356.96" cy="320.03" r="3.2" fill="#F14040" stroke="#BB3131" stroke-width="0.6"/>
<circle cx="366.3" cy="317.14" r="3.2" fill="#F14040" stroke="#BB3131" stroke-width="0.6"/>
<circle cx="375.63" cy="317.14" r="3.2" fill="#F14040" stroke="#BB3131" stroke-width="0.6"/>
<circle cx="384.97" cy="312.87" r="3.2" fill="#F14040" stroke="#BB3131" stroke-width="0.6"/>
<circle cx="394.31" cy="318.96" r="3.2" fill="#F14040" stroke="#BB3131" stroke-width="0.6"/>
<circle cx="403.65" cy="316.5" r="3.2" fill="#F14040" stroke="#BB3131" stroke-width="0.6"/>
<circle cx="412.99" cy="317.14" r="3.2" fill="#F14040" stroke="#BB3131" stroke-width="0.6"/>
<circle cx="422.33" cy="311.69" r="3.2" fill="#F14040" stroke="#BB3131" stroke-width="0.6"/>
<circle cx="431.67" cy="308.59" r="3.2" fill="#F14040" stroke="#BB3131" stroke-width="0.6"/>
<circle cx="441.01" cy="304.75" r="3.2" fill="#F14040" stroke="#BB3131" stroke-width="0.6"/>
<circle cx="450.35" cy="298.97" r="3.2" fill="#F14040" stroke="#BB3131" stroke-width="0.6"/>
<circle cx="459.69" cy="299.51" r="3.2" fill="#F14040" stroke="#BB3131" stroke-width="0.6"/>
<circle cx="469.03" cy="298.97" r="3.2" fill="#F14040" stroke="#BB3131" stroke-width="0.6"/>
<circle cx="478.37" cy="297.69" r="3.2" fill="#F14040" stroke="#BB3131" stroke-width="0.6"/>
<circle cx="487.7" cy="298.33" r="3.2" fill="#F14040" stroke="#BB3131" stroke-width="0.6"/>
<circle cx="497.04" cy="287.65" r="3.2" fill="#F14040" stroke="#BB3131" stroke-width="0.6"/>
<circle cx="506.38" cy="282.95" r="3.2" fill="#F14040" stroke="#BB3131" stroke-width="0.6"/>
<circle cx="515.72" cy="273.22" r="3.2" fill="#F14040" stroke="#BB3131" stroke-width="0.6"/>
<circle cx="525.06" cy="267.45" r="3.2" fill="#F14040" stroke="#BB3131" stroke-width="0.6"/>
<polyline points="328.94,332.1 338.28,322.59 347.62,314.26 356.96,308.16 366.3,306.35 375.63,306.35 384.97,303.36 394.31,306.67 403.65,307.63 412.99,303.78 422.33,300.9 431.67,293.2 441.01,290.32 450.35,284.34 459.69,282.63 469.03,279.74 478.37,277.5 487.7,278.89 497.04,273.22 506.38,268.41 515.72,263.61 525.06,261.04" fill="none" stroke="#1A6FDF" stroke-width="1"/>
<polygon points="328.94,328.9 332.51,335.3 325.37,335.3" fill="#1A6FDF" stroke="#1456AD" stroke-width="0.6"/>
<polygon points="338.28,319.39 341.85,325.79 334.71,325.79" fill="#1A6FDF" stroke="#1456AD" stroke-width="0.6"/>
<polygon points="347.62,311.06 351.19,317.45 344.05,317.45" fill="#1A6FDF" stroke="#1456AD" stroke-width="0.6"/>
<polygon points="356.96,304.97 360.53,311.36 353.38,311.36" fill="#1A6FDF" stroke="#1456AD" stroke-width="0.6"/>
<polygon points="366.3,303.15 369.87,309.54 362.72,309.54" fill="#1A6FDF" stroke="#1456AD" stroke-width="0.6"/>
<polygon points="375.63,303.15 379.21,309.54 372.06,309.54" fill="#1A6FDF" stroke="#1456AD" stroke-width="0.6"/>
<polygon points="384.97,300.16 388.55,306.55 381.4,306.55" fill="#1A6FDF" stroke="#1456AD" stroke-width="0.6"/>
<polygon points="394.31,303.47 397.89,309.86 390.74,309.86" fill="#1A6FDF" stroke="#1456AD" stroke-width="0.6"/>
<polygon points="403.65,304.43 407.22,310.83 400.08,310.83" fill="#1A6FDF" stroke="#1456AD" stroke-width="0.6"/>
<polygon points="412.99,300.59 416.56,306.98 409.42,306.98" fill="#1A6FDF" stroke="#1456AD" stroke-width="0.6"/>
<polygon points="422.33,297.7 425.9,304.09 418.76,304.09" fill="#1A6FDF" stroke="#1456AD" stroke-width="0.6"/>
<polygon points="431.67,290.01 435.24,296.4 428.1,296.4" fill="#1A6FDF" stroke="#1456AD" stroke-width="0.6"/>
<polygon points="441.01,287.12 444.58,293.52 437.44,293.52" fill="#1A6FDF" stroke="#1456AD" stroke-width="0.6"/>
<polygon points="450.35,281.14 453.92,287.53 446.78,287.53" fill="#1A6FDF" stroke="#1456AD" stroke-width="0.6"/>
<polygon points="459.69,279.43 463.26,285.82 456.11,285.82" fill="#1A6FDF" stroke="#1456AD" stroke-width="0.6"/>
<polygon points="469.03,276.54 472.6,282.94 465.45,282.94" fill="#1A6FDF" stroke="#1456AD" stroke-width="0.6"/>
<polygon points="478.37,274.3 481.94,280.69 474.79,280.69" fill="#1A6FDF" stroke="#1456AD" stroke-width="0.6"/>
<polygon points="487.7,275.69 491.28,282.08 484.13,282.08" fill="#1A6FDF" stroke="#1456AD" stroke-width="0.6"/>
<polygon points="497.04,270.03 500.62,276.42 493.47,276.42" fill="#1A6FDF" stroke="#1456AD" stroke-width="0.6"/>
<polygon points="506.38,265.22 509.95,271.61 502.81,271.61" fill="#1A6FDF" stroke="#1456AD" stroke-width="0.6"/>
<polygon points="515.72,260.41 519.29,266.8 512.15,266.8" fill="#1A6FDF" stroke="#1456AD" stroke-width="0.6"/>
<polygon points="525.06,257.84 528.63,264.24 521.49,264.24" fill="#1A6FDF" stroke="#1456AD" stroke-width="0.6"/>
<polyline points="328.94,325.69 338.28,317.14 347.62,309.98 356.96,304.53 366.3,299.19 375.63,299.19 384.97,298.44 394.31,298.44 403.65,300.9 412.99,296.09 422.33,293.74 431.67,285.51 441.01,279.74 450.35,273.01 459.69,269.16 469.03,265.31 478.37,263.18 487.7,267.99 497.04,263.93 506.38,261.36 515.72,259.65 525.06,255.38" fill="none" stroke="#37AD6B" stroke-width="1"/>
<polygon points="328.94,328.89 332.51,322.49 325.37,322.49" fill="#37AD6B" stroke="#2A8653" stroke-width="0.6"/>
<polygon points="338.28,320.34 341.85,313.94 334.71,313.94" fill="#37AD6B" stroke="#2A8653" stroke-width="0.6"/>
<polygon points="347.62,313.18 351.19,306.79 344.05,306.79" fill="#37AD6B" stroke="#2A8653" stroke-width="0.6"/>
<polygon points="356.96,307.73 360.53,301.34 353.38,301.34" fill="#37AD6B" stroke="#2A8653" stroke-width="0.6"/>
<polygon points="366.3,302.38 369.87,295.99 362.72,295.99" fill="#37AD6B" stroke="#2A8653" stroke-width="0.6"/>
<polygon points="375.63,302.38 379.21,295.99 372.06,295.99" fill="#37AD6B" stroke="#2A8653" stroke-width="0.6"/>
<polygon points="384.97,301.64 388.55,295.24 381.4,295.24" fill="#37AD6B" stroke="#2A8653" stroke-width="0.6"/>
<polygon points="394.31,301.64 397.89,295.24 390.74,295.24" fill="#37AD6B" stroke="#2A8653" stroke-width="0.6"/>
<polygon points="403.65,304.09 407.22,297.7 400.08,297.7" fill="#37AD6B" stroke="#2A8653" stroke-width="0.6"/>
<polygon points="412.99,299.29 416.56,292.89 409.42,292.89" fill="#37AD6B" stroke="#2A8653" stroke-width="0.6"/>
<polygon points="422.33,296.93 425.9,290.54 418.76,290.54" fill="#37AD6B" stroke="#2A8653" stroke-width="0.6"/>
<polygon points="431.67,288.71 435.24,282.31 428.1,282.31" fill="#37AD6B" stroke="#2A8653" stroke-width="0.6"/>
<polygon points="441.01,282.94 444.58,276.54 437.44,276.54" fill="#37AD6B" stroke="#2A8653" stroke-width="0.6"/>
<polygon points="450.35,276.2 453.92,269.81 446.78,269.81" fill="#37AD6B" stroke="#2A8653" stroke-width="0.6"/>
<polygon points="459.69,272.36 463.26,265.97 456.11,265.97" fill="#37AD6B" stroke="#2A8653" stroke-width="0.6"/>
<polygon points="469.03,268.51 472.6,262.12 465.45,262.12" fill="#37AD6B" stroke="#2A8653" stroke-width="0.6"/>
<polygon points="478.37,266.37 481.94,259.98 474.79,259.98" fill="#37AD6B" stroke="#2A8653" stroke-width="0.6"/>
<polygon points="487.7,271.18 491.28,264.79 484.13,264.79" fill="#37AD6B" stroke="#2A8653" stroke-width="0.6"/>
<polygon points="497.04,267.12 500.62,260.73 493.47,260.73" fill="#37AD6B" stroke="#2A8653" stroke-width="0.6"/>
<polygon points="506.38,264.56 509.95,258.17 502.81,258.17" fill="#37AD6B" stroke="#2A8653" stroke-width="0.6"/>
<polygon points="515.72,262.85 519.29,256.46 512.15,256.46" fill="#37AD6B" stroke="#2A8653" stroke-width="0.6"/>
<polygon points="525.06,258.57 528.63,252.18 521.49,252.18" fill="#37AD6B" stroke="#2A8653" stroke-width="0.6"/>
<polyline points="328.94,311.9 338.28,310.52 347.62,303.89 356.96,299.08 366.3,295.23 375.63,292.03 384.97,288.82 394.31,291.82 403.65,289.89 412.99,289.36 422.33,286.9 431.67,274.61 441.01,272.05 450.35,263.39 459.69,258.69 469.03,255.8 478.37,255.27 487.7,261.57 497.04,258.58 506.38,264.46 515.72,255.27 525.06,253.13" fill="none" stroke="#B177DE" stroke-width="1"/>
<polygon points="328.94,308.14 332.7,311.9 328.94,315.66 325.18,311.9" fill="#B177DE" stroke="#8A5CAD" stroke-width="0.6"/>
<polygon points="338.28,306.76 342.04,310.52 338.28,314.28 334.52,310.52" fill="#B177DE" stroke="#8A5CAD" stroke-width="0.6"/>
<polygon points="347.62,300.13 351.38,303.89 347.62,307.65 343.86,303.89" fill="#B177DE" stroke="#8A5CAD" stroke-width="0.6"/>
<polygon points="356.96,295.32 360.72,299.08 356.96,302.84 353.2,299.08" fill="#B177DE" stroke="#8A5CAD" stroke-width="0.6"/>
<polygon points="366.3,291.47 370.06,295.23 366.3,298.99 362.54,295.23" fill="#B177DE" stroke="#8A5CAD" stroke-width="0.6"/>
<polygon points="375.63,288.27 379.39,292.03 375.63,295.79 371.87,292.03" fill="#B177DE" stroke="#8A5CAD" stroke-width="0.6"/>
<polygon points="384.97,285.06 388.73,288.82 384.97,292.58 381.21,288.82" fill="#B177DE" stroke="#8A5CAD" stroke-width="0.6"/>
<polygon points="394.31,288.06 398.07,291.82 394.31,295.58 390.55,291.82" fill="#B177DE" stroke="#8A5CAD" stroke-width="0.6"/>
<polygon points="403.65,286.13 407.41,289.89 403.65,293.65 399.89,289.89" fill="#B177DE" stroke="#8A5CAD" stroke-width="0.6"/>
<polygon points="412.99,285.6 416.75,289.36 412.99,293.12 409.23,289.36" fill="#B177DE" stroke="#8A5CAD" stroke-width="0.6"/>
<polygon points="422.33,283.14 426.09,286.9 422.33,290.66 418.57,286.9" fill="#B177DE" stroke="#8A5CAD" stroke-width="0.6"/>
<polygon points="431.67,270.85 435.43,274.61 431.67,278.37 427.91,274.61" fill="#B177DE" stroke="#8A5CAD" stroke-width="0.6"/>
<polygon points="441.01,268.29 444.77,272.05 441.01,275.81 437.25,272.05" fill="#B177DE" stroke="#8A5CAD" stroke-width="0.6"/>
<polygon points="450.35,259.63 454.11,263.39 450.35,267.15 446.59,263.39" fill="#B177DE" stroke="#8A5CAD" stroke-width="0.6"/>
<polygon points="459.69,254.93 463.45,258.69 459.69,262.45 455.93,258.69" fill="#B177DE" stroke="#8A5CAD" stroke-width="0.6"/>
<polygon points="469.03,252.04 472.79,255.8 469.03,259.56 465.27,255.8" fill="#B177DE" stroke="#8A5CAD" stroke-width="0.6"/>
<polygon points="478.37,251.51 482.13,255.27 478.37,259.03 474.61,255.27" fill="#B177DE" stroke="#8A5CAD" stroke-width="0.6"/>
<polygon points="487.7,257.81 491.46,261.57 487.7,265.33 483.94,261.57" fill="#B177DE" stroke="#8A5CAD" stroke-width="0.6"/>
<polygon points="497.04,254.82 500.8,258.58 497.04,262.34 493.28,258.58" fill="#B177DE" stroke="#8A5CAD" stroke-width="0.6"/>
<polygon points="506.38,260.7 510.14,264.46 506.38,268.22 502.62,264.46" fill="#B177DE" stroke="#8A5CAD" stroke-width="0.6"/>
<polygon points="515.72,251.51 519.48,255.27 515.72,259.03 511.96,255.27" fill="#B177DE" stroke="#8A5CAD" stroke-width="0.6"/>
<polygon points="525.06,249.37 528.82,253.13 525.06,256.89 521.3,253.13" fill="#B177DE" stroke="#8A5CAD" stroke-width="0.6"/>
<polyline points="328.94,305.39 338.28,300.04 347.62,299.08 356.96,292.78 366.3,290.11 375.63,287.65 384.97,286.47 394.31,284.23 403.65,283.05 412.99,277.82 422.33,279.21 431.67,263.82 441.01,258.05 450.35,255.8 459.69,248.43 469.03,246.19 478.37,247.9 487.7,254.63 497.04,256.34 506.38,258.8 515.72,258.48 525.06,254.09" fill="none" stroke="#CC9900" stroke-width="1"/>
<polygon points="325.74,305.39 332.14,301.81 332.14,308.96" fill="#CC9900" stroke="#9F7700" stroke-width="0.6"/>
<polygon points="335.08,300.04 341.47,296.47 341.47,303.62" fill="#CC9900" stroke="#9F7700" stroke-width="0.6"/>
<polygon points="344.42,299.08 350.81,295.51 350.81,302.65" fill="#CC9900" stroke="#9F7700" stroke-width="0.6"/>
<polygon points="353.76,292.78 360.15,289.21 360.15,296.35" fill="#CC9900" stroke="#9F7700" stroke-width="0.6"/>
<polygon points="363.1,290.11 369.49,286.53 369.49,293.68" fill="#CC9900" stroke="#9F7700" stroke-width="0.6"/>
<polygon points="372.44,287.65 378.83,284.08 378.83,291.22" fill="#CC9900" stroke="#9F7700" stroke-width="0.6"/>
<polygon points="381.78,286.47 388.17,282.9 388.17,290.04" fill="#CC9900" stroke="#9F7700" stroke-width="0.6"/>
<polygon points="391.12,284.23 397.51,280.66 397.51,287.8" fill="#CC9900" stroke="#9F7700" stroke-width="0.6"/>
<polygon points="400.46,283.05 406.85,279.48 406.85,286.63" fill="#CC9900" stroke="#9F7700" stroke-width="0.6"/>
<polygon points="409.8,277.82 416.19,274.25 416.19,281.39" fill="#CC9900" stroke="#9F7700" stroke-width="0.6"/>
<polygon points="419.13,279.21 425.53,275.63 425.53,282.78" fill="#CC9900" stroke="#9F7700" stroke-width="0.6"/>
<polygon points="428.47,263.82 434.87,260.25 434.87,267.39" fill="#CC9900" stroke="#9F7700" stroke-width="0.6"/>
<polygon points="437.81,258.05 444.2,254.48 444.2,261.62" fill="#CC9900" stroke="#9F7700" stroke-width="0.6"/>
<polygon points="447.15,255.8 453.54,252.23 453.54,259.38" fill="#CC9900" stroke="#9F7700" stroke-width="0.6"/>
<polygon points="456.49,248.43 462.88,244.86 462.88,252" fill="#CC9900" stroke="#9F7700" stroke-width="0.6"/>
<polygon points="465.83,246.19 472.22,242.62 472.22,249.76" fill="#CC9900" stroke="#9F7700" stroke-width="0.6"/>
<polygon points="475.17,247.9 481.56,244.33 481.56,251.47" fill="#CC9900" stroke="#9F7700" stroke-width="0.6"/>
<polygon points="484.51,254.63 490.9,251.06 490.9,258.2" fill="#CC9900" stroke="#9F7700" stroke-width="0.6"/>
<polygon points="493.85,256.34 500.24,252.77 500.24,259.91" fill="#CC9900" stroke="#9F7700" stroke-width="0.6"/>
<polygon points="503.19,258.8 509.58,255.22 509.58,262.37" fill="#CC9900" stroke="#9F7700" stroke-width="0.6"/>
<polygon points="512.53,258.48 518.92,254.9 518.92,262.05" fill="#CC9900" stroke="#9F7700" stroke-width="0.6"/>
<polygon points="521.86,254.09 528.26,250.52 528.26,257.67" fill="#CC9900" stroke="#9F7700" stroke-width="0.6"/>
<polyline points="328.94,296.2 338.28,295.23 347.62,293.85 356.96,287.54 366.3,283.69 375.63,276.86 384.97,278.78 394.31,272.05 403.65,271.09 412.99,264.35 422.33,267.24 431.67,253.45 441.01,253.45 450.35,247.68 459.69,243.84 469.03,239.46 478.37,245.23 487.7,247.9 497.04,250.57 506.38,252.17 515.72,257.51 525.06,259.33" fill="none" stroke="#00CBCC" stroke-width="1"/>
<polygon points="332.14,296.2 325.74,292.62 325.74,299.77" fill="#00CBCC" stroke="#009E9F" stroke-width="0.6"/>
<polygon points="341.47,295.23 335.08,291.66 335.08,298.81" fill="#00CBCC" stroke="#009E9F" stroke-width="0.6"/>
<polygon points="350.81,293.85 344.42,290.27 344.42,297.42" fill="#00CBCC" stroke="#009E9F" stroke-width="0.6"/>
<polygon points="360.15,287.54 353.76,283.97 353.76,291.11" fill="#00CBCC" stroke="#009E9F" stroke-width="0.6"/>
<polygon points="369.49,283.69 363.1,280.12 363.1,287.27" fill="#00CBCC" stroke="#009E9F" stroke-width="0.6"/>
<polygon points="378.83,276.86 372.44,273.28 372.44,280.43" fill="#00CBCC" stroke="#009E9F" stroke-width="0.6"/>
<polygon points="388.17,278.78 381.78,275.21 381.78,282.35" fill="#00CBCC" stroke="#009E9F" stroke-width="0.6"/>
<polygon points="397.51,272.05 391.12,268.47 391.12,275.62" fill="#00CBCC" stroke="#009E9F" stroke-width="0.6"/>
<polygon points="406.85,271.09 400.46,267.51 400.46,274.66" fill="#00CBCC" stroke="#009E9F" stroke-width="0.6"/>
<polygon points="416.19,264.35 409.8,260.78 409.8,267.93" fill="#00CBCC" stroke="#009E9F" stroke-width="0.6"/>
<polygon points="425.53,267.24 419.13,263.67 419.13,270.81" fill="#00CBCC" stroke="#009E9F" stroke-width="0.6"/>
<polygon points="434.87,253.45 428.47,249.88 428.47,257.03" fill="#00CBCC" stroke="#009E9F" stroke-width="0.6"/>
<polygon points="444.2,253.45 437.81,249.88 437.81,257.03" fill="#00CBCC" stroke="#009E9F" stroke-width="0.6"/>
<polygon points="453.54,247.68 447.15,244.11 447.15,251.26" fill="#00CBCC" stroke="#009E9F" stroke-width="0.6"/>
<polygon points="462.88,243.84 456.49,240.26 456.49,247.41" fill="#00CBCC" stroke="#009E9F" stroke-width="0.6"/>
<polygon points="472.22,239.46 465.83,235.88 465.83,243.03" fill="#00CBCC" stroke="#009E9F" stroke-width="0.6"/>
<polygon points="481.56,245.23 475.17,241.65 475.17,248.8" fill="#00CBCC" stroke="#009E9F" stroke-width="0.6"/>
<polygon points="490.9,247.9 484.51,244.33 484.51,251.47" fill="#00CBCC" stroke="#009E9F" stroke-width="0.6"/>
<polygon points="500.24,250.57 493.85,247 493.85,254.14" fill="#00CBCC" stroke="#009E9F" stroke-width="0.6"/>
<polygon points="509.58,252.17 503.19,248.6 503.19,255.74" fill="#00CBCC" stroke="#009E9F" stroke-width="0.6"/>
<polygon points="518.92,257.51 512.53,253.94 512.53,261.09" fill="#00CBCC" stroke="#009E9F" stroke-width="0.6"/>
<polygon points="528.26,259.33 521.86,255.76 521.86,262.9" fill="#00CBCC" stroke="#009E9F" stroke-width="0.6"/>
<polyline points="328.94,290.21 338.28,284.76 347.62,284.23 356.96,281.24 366.3,273.97 375.63,266.06 384.97,265.31 394.31,256.77 403.65,259.97 412.99,251 422.33,253.45 431.67,247.68 441.01,241.91 450.35,241.91 459.69,238.49 469.03,243.84 478.37,249.5 487.7,248.97 497.04,253.24 506.38,256.34 515.72,260.51 525.06,255.8" fill="none" stroke="#7D4E4E" stroke-width="1"/>
<polygon points="331.87,291.9 328.94,293.6 326.01,291.9 326.01,288.52 328.94,286.83 331.87,288.52" fill="#7D4E4E" stroke="#613C3C" stroke-width="0.6"/>
<polygon points="341.21,286.45 338.28,288.15 335.35,286.45 335.35,283.07 338.28,281.38 341.21,283.07" fill="#7D4E4E" stroke="#613C3C" stroke-width="0.6"/>
<polygon points="350.55,285.92 347.62,287.61 344.69,285.92 344.69,282.54 347.62,280.84 350.55,282.54" fill="#7D4E4E" stroke="#613C3C" stroke-width="0.6"/>
<polygon points="359.89,282.93 356.96,284.62 354.03,282.93 354.03,279.54 356.96,277.85 359.89,279.54" fill="#7D4E4E" stroke="#613C3C" stroke-width="0.6"/>
<polygon points="369.23,275.66 366.3,277.35 363.37,275.66 363.37,272.28 366.3,270.59 369.23,272.28" fill="#7D4E4E" stroke="#613C3C" stroke-width="0.6"/>
<polygon points="378.57,267.75 375.63,269.45 372.7,267.75 372.7,264.37 375.63,262.68 378.57,264.37" fill="#7D4E4E" stroke="#613C3C" stroke-width="0.6"/>
<polygon points="387.9,267.01 384.97,268.7 382.04,267.01 382.04,263.62 384.97,261.93 387.9,263.62" fill="#7D4E4E" stroke="#613C3C" stroke-width="0.6"/>
<polygon points="397.24,258.46 394.31,260.15 391.38,258.46 391.38,255.07 394.31,253.38 397.24,255.07" fill="#7D4E4E" stroke="#613C3C" stroke-width="0.6"/>
<polygon points="406.58,261.66 403.65,263.36 400.72,261.66 400.72,258.28 403.65,256.59 406.58,258.28" fill="#7D4E4E" stroke="#613C3C" stroke-width="0.6"/>
<polygon points="415.92,252.69 412.99,254.38 410.06,252.69 410.06,249.3 412.99,247.61 415.92,249.3" fill="#7D4E4E" stroke="#613C3C" stroke-width="0.6"/>
<polygon points="425.26,255.15 422.33,256.84 419.4,255.15 419.4,251.76 422.33,250.07 425.26,251.76" fill="#7D4E4E" stroke="#613C3C" stroke-width="0.6"/>
<polygon points="434.6,249.38 431.67,251.07 428.74,249.38 428.74,245.99 431.67,244.3 434.6,245.99" fill="#7D4E4E" stroke="#613C3C" stroke-width="0.6"/>
<polygon points="443.94,243.61 441.01,245.3 438.08,243.61 438.08,240.22 441.01,238.53 443.94,240.22" fill="#7D4E4E" stroke="#613C3C" stroke-width="0.6"/>
<polygon points="453.28,243.61 450.35,245.3 447.42,243.61 447.42,240.22 450.35,238.53 453.28,240.22" fill="#7D4E4E" stroke="#613C3C" stroke-width="0.6"/>
<polygon points="462.62,240.19 459.69,241.88 456.76,240.19 456.76,236.8 459.69,235.11 462.62,236.8" fill="#7D4E4E" stroke="#613C3C" stroke-width="0.6"/>
<polygon points="471.96,245.53 469.03,247.22 466.1,245.53 466.1,242.14 469.03,240.45 471.96,242.14" fill="#7D4E4E" stroke="#613C3C" stroke-width="0.6"/>
<polygon points="481.3,251.19 478.37,252.88 475.43,251.19 475.43,247.81 478.37,246.12 481.3,247.81" fill="#7D4E4E" stroke="#613C3C" stroke-width="0.6"/>
<polygon points="490.63,250.66 487.7,252.35 484.77,250.66 484.77,247.27 487.7,245.58 490.63,247.27" fill="#7D4E4E" stroke="#613C3C" stroke-width="0.6"/>
<polygon points="499.97,254.93 497.04,256.62 494.11,254.93 494.11,251.55 497.04,249.86 499.97,251.55" fill="#7D4E4E" stroke="#613C3C" stroke-width="0.6"/>
<polygon points="509.31,258.03 506.38,259.72 503.45,258.03 503.45,254.65 506.38,252.95 509.31,254.65" fill="#7D4E4E" stroke="#613C3C" stroke-width="0.6"/>
<polygon points="518.65,262.2 515.72,263.89 512.79,262.2 512.79,258.81 515.72,257.12 518.65,258.81" fill="#7D4E4E" stroke="#613C3C" stroke-width="0.6"/>
<polygon points="527.99,257.5 525.06,259.19 522.13,257.5 522.13,254.11 525.06,252.42 527.99,254.11" fill="#7D4E4E" stroke="#613C3C" stroke-width="0.6"/>
<rect x="319.6" y="230.8" width="214.8" height="149.6" fill="none" stroke="#000" stroke-width="1.3"/>
<path d="M328.94 380.4v-3M328.94 230.8v3M347.62 380.4v-5M347.62 230.8v5M366.3 380.4v-3M366.3 230.8v3M384.97 380.4v-5M384.97 230.8v5M403.65 380.4v-3M403.65 230.8v3M422.33 380.4v-5M422.33 230.8v5M441.01 380.4v-3M441.01 230.8v3M459.69 380.4v-5M459.69 230.8v5M478.37 380.4v-3M478.37 230.8v3M497.04 380.4v-5M497.04 230.8v5M515.72 380.4v-3M515.72 230.8v3M534.4 380.4v-5M534.4 230.8v5M319.6 369.71h5M534.4 369.71h-5M319.6 348.34h5M534.4 348.34h-5M319.6 326.97h5M534.4 326.97h-5M319.6 305.6h5M534.4 305.6h-5M319.6 284.23h5M534.4 284.23h-5M319.6 262.86h5M534.4 262.86h-5M319.6 241.49h5M534.4 241.49h-5M319.6 380.4h3M534.4 380.4h-3M319.6 359.03h3M534.4 359.03h-3M319.6 337.66h3M534.4 337.66h-3M319.6 316.29h3M534.4 316.29h-3M319.6 294.91h3M534.4 294.91h-3M319.6 273.54h3M534.4 273.54h-3M319.6 252.17h3M534.4 252.17h-3M319.6 230.8h3M534.4 230.8h-3" stroke="#000" stroke-width="1.3" fill="none"/>
<text x="347.62" y="396.7" text-anchor="middle">40</text>
<text x="384.97" y="396.7" text-anchor="middle">60</text>
<text x="422.33" y="396.7" text-anchor="middle">80</text>
<text x="459.69" y="396.7" text-anchor="middle">100</text>
<text x="497.04" y="396.7" text-anchor="middle">120</text>
<text x="534.4" y="396.7" text-anchor="middle">140</text>
<text x="313.6" y="374.41" text-anchor="end">5.6</text>
<text x="313.6" y="353.04" text-anchor="end">5.8</text>
<text x="313.6" y="331.67" text-anchor="end">6.0</text>
<text x="313.6" y="310.3" text-anchor="end">6.2</text>
<text x="313.6" y="288.93" text-anchor="end">6.4</text>
<text x="313.6" y="267.56" text-anchor="end">6.6</text>
<text x="313.6" y="246.19" text-anchor="end">6.8</text>
<text x="427" y="412.4" text-anchor="middle" style="font-size:13.7px">Temperature (°C)</text>
<text x="504.2" y="363.1" style="font-size:13.3px">(d)</text>
<text x="328.2" y="247.9" text-anchor="start" style="fill:#f00;stroke:none;font-size:13.3px">peak (vi)</text>
<text transform="translate(14.7,116.4) rotate(-90)" text-anchor="middle" style="font-size:13.7px">Power (nW)</text>
<text transform="translate(289.5,116.3) rotate(-90)" text-anchor="middle" style="font-size:13.7px">Power (nW)</text>
<text transform="translate(26.6,305.2) rotate(-90)" text-anchor="middle" style="font-size:13.7px">Power (nW)</text>
<text transform="translate(289.6,305.2) rotate(-90)" text-anchor="middle" style="font-size:13.7px">Power (nW)</text>
<rect x="130.5" y="3.6" width="314" height="35" fill="#fff" stroke="#555" stroke-width="1.1"/>
<line x1="132" y1="13.3" x2="160" y2="13.3" stroke="#4A4A4A" stroke-width="1"/>
<rect x="143.37" y="10.67" width="5.26" height="5.26" fill="#4A4A4A" stroke="#393939" stroke-width="0.6"/>
<text x="164" y="17.6" style="font-size:12.3px">0 με</text>
<line x1="210.4" y1="13.3" x2="238.4" y2="13.3" stroke="#F14040" stroke-width="1"/>
<circle cx="224.4" cy="13.3" r="3.2" fill="#F14040" stroke="#BB3131" stroke-width="0.6"/>
<text x="242.4" y="17.6" style="font-size:12.3px">250 με</text>
<line x1="288.8" y1="13.3" x2="316.8" y2="13.3" stroke="#1A6FDF" stroke-width="1"/>
<polygon points="302.8,10.1 306.37,16.5 299.23,16.5" fill="#1A6FDF" stroke="#1456AD" stroke-width="0.6"/>
<text x="320.8" y="17.6" style="font-size:12.3px">500 με</text>
<line x1="367.2" y1="13.3" x2="395.2" y2="13.3" stroke="#37AD6B" stroke-width="1"/>
<polygon points="381.2,16.5 384.77,10.1 377.63,10.1" fill="#37AD6B" stroke="#2A8653" stroke-width="0.6"/>
<text x="399.2" y="17.6" style="font-size:12.3px">750 με</text>
<line x1="132" y1="30.3" x2="160" y2="30.3" stroke="#B177DE" stroke-width="1"/>
<polygon points="146,26.54 149.76,30.3 146,34.06 142.24,30.3" fill="#B177DE" stroke="#8A5CAD" stroke-width="0.6"/>
<text x="164" y="34.6" style="font-size:12.3px">1000 με</text>
<line x1="210.4" y1="30.3" x2="238.4" y2="30.3" stroke="#CC9900" stroke-width="1"/>
<polygon points="221.2,30.3 227.6,26.73 227.6,33.87" fill="#CC9900" stroke="#9F7700" stroke-width="0.6"/>
<text x="242.4" y="34.6" style="font-size:12.3px">1250 με</text>
<line x1="288.8" y1="30.3" x2="316.8" y2="30.3" stroke="#00CBCC" stroke-width="1"/>
<polygon points="306,30.3 299.6,26.73 299.6,33.87" fill="#00CBCC" stroke="#009E9F" stroke-width="0.6"/>
<text x="320.8" y="34.6" style="font-size:12.3px">1500 με</text>
<line x1="367.2" y1="30.3" x2="395.2" y2="30.3" stroke="#7D4E4E" stroke-width="1"/>
<polygon points="384.13,31.99 381.2,33.68 378.27,31.99 378.27,28.61 381.2,26.92 384.13,28.61" fill="#7D4E4E" stroke="#613C3C" stroke-width="0.6"/>
<text x="399.2" y="34.6" style="font-size:12.3px">1750 με</text>
</svg></body></html>
